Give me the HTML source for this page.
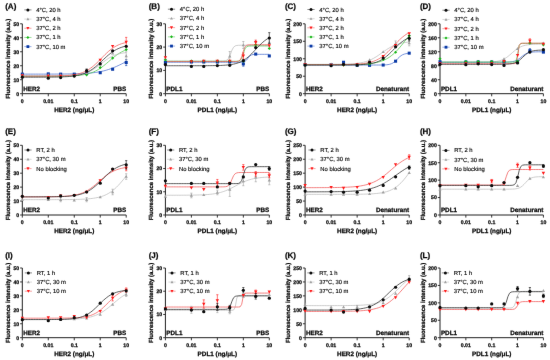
<!DOCTYPE html>
<html><head><meta charset="utf-8"><style>html,body{margin:0;padding:0;background:#fff;width:550px;height:360px;overflow:hidden}text{font-family:"Liberation Sans", sans-serif;text-rendering:geometricPrecision}</style></head>
<body><div style="will-change:transform;width:550px;height:360px"><svg width="550" height="360" viewBox="0 0 550 360" style="display:block;font-family:'Liberation Sans', sans-serif"><defs><filter id="bl" x="0" y="0" width="550" height="360" filterUnits="userSpaceOnUse" color-interpolation-filters="sRGB"><feConvolveMatrix order="3" kernelMatrix="0.00163 0.03713 0.00163 0.03713 0.84497 0.03713 0.00163 0.03713 0.00163" edgeMode="duplicate"/></filter></defs><rect width="550" height="360" fill="#ffffff"/><g filter="url(#bl)"><text x="5.20" y="9.40" font-size="8" font-weight="bold" text-anchor="start" fill="#0a0a0a" stroke="#0a0a0a" stroke-width="0.25" >(A)</text><text x="8.10" y="58.75" font-size="5.95" font-weight="bold" text-anchor="middle" fill="#0a0a0a" stroke="#0a0a0a" stroke-width="0.25" transform="rotate(-90 8.10 58.75)" dy="2">Fluorescence intensity (a.u.)</text><path d="M22.30 23.80V93.70H126.20" stroke="#222222" stroke-width="1.0" fill="none"/><path d="M20.10 93.70H22.30" stroke="#222222" stroke-width="0.9"/><text x="19.10" y="95.55" font-size="5.15" font-weight="bold" text-anchor="end" fill="#0a0a0a" stroke="#0a0a0a" stroke-width="0.25" >0</text><path d="M20.10 79.72H22.30" stroke="#222222" stroke-width="0.9"/><text x="19.10" y="81.57" font-size="5.15" font-weight="bold" text-anchor="end" fill="#0a0a0a" stroke="#0a0a0a" stroke-width="0.25" >10</text><path d="M20.10 65.74H22.30" stroke="#222222" stroke-width="0.9"/><text x="19.10" y="67.59" font-size="5.15" font-weight="bold" text-anchor="end" fill="#0a0a0a" stroke="#0a0a0a" stroke-width="0.25" >20</text><path d="M20.10 51.76H22.30" stroke="#222222" stroke-width="0.9"/><text x="19.10" y="53.61" font-size="5.15" font-weight="bold" text-anchor="end" fill="#0a0a0a" stroke="#0a0a0a" stroke-width="0.25" >30</text><path d="M20.10 37.78H22.30" stroke="#222222" stroke-width="0.9"/><text x="19.10" y="39.63" font-size="5.15" font-weight="bold" text-anchor="end" fill="#0a0a0a" stroke="#0a0a0a" stroke-width="0.25" >40</text><path d="M20.10 23.80H22.30" stroke="#222222" stroke-width="0.9"/><text x="19.10" y="25.65" font-size="5.15" font-weight="bold" text-anchor="end" fill="#0a0a0a" stroke="#0a0a0a" stroke-width="0.25" >50</text><path d="M22.30 93.70V96.30" stroke="#222222" stroke-width="0.9"/><text x="22.30" y="102.70" font-size="5.15" font-weight="bold" text-anchor="middle" fill="#0a0a0a" stroke="#0a0a0a" stroke-width="0.25" >0</text><path d="M48.28 93.70V96.30" stroke="#222222" stroke-width="0.9"/><text x="48.28" y="102.70" font-size="5.15" font-weight="bold" text-anchor="middle" fill="#0a0a0a" stroke="#0a0a0a" stroke-width="0.25" >0.01</text><path d="M74.25 93.70V96.30" stroke="#222222" stroke-width="0.9"/><text x="74.25" y="102.70" font-size="5.15" font-weight="bold" text-anchor="middle" fill="#0a0a0a" stroke="#0a0a0a" stroke-width="0.25" >0.1</text><path d="M100.23 93.70V96.30" stroke="#222222" stroke-width="0.9"/><text x="100.23" y="102.70" font-size="5.15" font-weight="bold" text-anchor="middle" fill="#0a0a0a" stroke="#0a0a0a" stroke-width="0.25" >1</text><path d="M126.20 93.70V96.30" stroke="#222222" stroke-width="0.9"/><text x="126.20" y="102.70" font-size="5.15" font-weight="bold" text-anchor="middle" fill="#0a0a0a" stroke="#0a0a0a" stroke-width="0.25" >10</text><text x="74.25" y="111.50" font-size="6.35" font-weight="bold" text-anchor="middle" fill="#0a0a0a" stroke="#0a0a0a" stroke-width="0.25" >HER2 (ng/μL)</text><text x="23.20" y="90.80" font-size="6.3" font-weight="bold" text-anchor="start" fill="#0a0a0a" stroke="#0a0a0a" stroke-width="0.25" >HER2</text><text x="126.20" y="90.80" font-size="6.3" font-weight="bold" text-anchor="end" fill="#0a0a0a" stroke="#0a0a0a" stroke-width="0.25" >PBS</text><polyline points="22.30,74.13 23.92,74.12 25.55,74.12 27.17,74.12 28.79,74.12 30.42,74.12 32.04,74.12 33.66,74.12 35.29,74.12 36.91,74.12 38.53,74.12 40.16,74.11 41.78,74.11 43.40,74.11 45.03,74.11 46.65,74.10 48.28,74.10 49.90,74.10 51.52,74.09 53.15,74.09 54.77,74.08 56.39,74.07 58.02,74.06 59.64,74.05 61.26,74.04 62.89,74.03 64.51,74.01 66.13,73.99 67.76,73.97 69.38,73.95 71.00,73.92 72.63,73.89 74.25,73.85 75.87,73.81 77.50,73.76 79.12,73.71 80.74,73.64 82.37,73.57 83.99,73.48 85.61,73.39 87.24,73.28 88.86,73.15 90.48,73.01 92.11,72.84 93.73,72.66 95.35,72.45 96.98,72.21 98.60,71.94 100.23,71.64 101.85,71.31 103.47,70.93 105.10,70.52 106.72,70.06 108.34,69.56 109.97,69.01 111.59,68.42 113.21,67.79 114.84,67.12 116.46,66.41 118.08,65.66 119.71,64.90 121.33,64.11 122.95,63.31 124.58,62.50 126.20,61.70" fill="none" stroke="#4a6fd0" stroke-width="0.75"/><polyline points="22.30,76.22 23.92,76.22 25.55,76.22 27.17,76.22 28.79,76.22 30.42,76.22 32.04,76.22 33.66,76.22 35.29,76.22 36.91,76.22 38.53,76.22 40.16,76.21 41.78,76.21 43.40,76.21 45.03,76.21 46.65,76.20 48.28,76.20 49.90,76.19 51.52,76.19 53.15,76.18 54.77,76.17 56.39,76.16 58.02,76.14 59.64,76.12 61.26,76.10 62.89,76.08 64.51,76.05 66.13,76.01 67.76,75.97 69.38,75.92 71.00,75.86 72.63,75.78 74.25,75.69 75.87,75.59 77.50,75.46 79.12,75.31 80.74,75.12 82.37,74.91 83.99,74.65 85.61,74.35 87.24,73.99 88.86,73.57 90.48,73.08 92.11,72.52 93.73,71.86 95.35,71.12 96.98,70.28 98.60,69.33 100.23,68.29 101.85,67.15 103.47,65.92 105.10,64.62 106.72,63.26 108.34,61.87 109.97,60.46 111.59,59.07 113.21,57.72 114.84,56.42 116.46,55.19 118.08,54.06 119.71,53.02 121.33,52.08 122.95,51.24 124.58,50.50 126.20,49.85" fill="none" stroke="#4fc84f" stroke-width="0.75"/><polyline points="22.30,75.53 23.92,75.53 25.55,75.52 27.17,75.52 28.79,75.52 30.42,75.52 32.04,75.52 33.66,75.52 35.29,75.52 36.91,75.52 38.53,75.52 40.16,75.52 41.78,75.52 43.40,75.52 45.03,75.51 46.65,75.51 48.28,75.51 49.90,75.50 51.52,75.49 53.15,75.49 54.77,75.48 56.39,75.47 58.02,75.45 59.64,75.43 61.26,75.41 62.89,75.38 64.51,75.35 66.13,75.31 67.76,75.25 69.38,75.19 71.00,75.11 72.63,75.01 74.25,74.89 75.87,74.74 77.50,74.56 79.12,74.34 80.74,74.08 82.37,73.75 83.99,73.36 85.61,72.90 87.24,72.35 88.86,71.71 90.48,70.97 92.11,70.12 93.73,69.16 95.35,68.11 96.98,66.97 98.60,65.75 100.23,64.49 101.85,63.21 103.47,61.94 105.10,60.71 106.72,59.54 108.34,58.45 109.97,57.47 111.59,56.58 113.21,55.81 114.84,55.13 116.46,54.55 118.08,54.06 119.71,53.65 121.33,53.31 122.95,53.02 124.58,52.79 126.20,52.60" fill="none" stroke="#bdbdbd" stroke-width="0.75"/><polyline points="22.30,76.22 23.92,76.22 25.55,76.22 27.17,76.22 28.79,76.22 30.42,76.21 32.04,76.21 33.66,76.21 35.29,76.21 36.91,76.20 38.53,76.20 40.16,76.19 41.78,76.19 43.40,76.18 45.03,76.17 46.65,76.16 48.28,76.15 49.90,76.13 51.52,76.11 53.15,76.09 54.77,76.06 56.39,76.02 58.02,75.98 59.64,75.93 61.26,75.88 62.89,75.80 64.51,75.72 66.13,75.62 67.76,75.49 69.38,75.35 71.00,75.17 72.63,74.96 74.25,74.71 75.87,74.42 77.50,74.07 79.12,73.66 80.74,73.17 82.37,72.61 83.99,71.96 85.61,71.20 87.24,70.34 88.86,69.36 90.48,68.26 92.11,67.05 93.73,65.72 95.35,64.28 96.98,62.75 98.60,61.15 100.23,59.50 101.85,57.84 103.47,56.18 105.10,54.56 106.72,53.01 108.34,51.54 109.97,50.17 111.59,48.92 113.21,47.78 114.84,46.77 116.46,45.87 118.08,45.08 119.71,44.39 121.33,43.80 122.95,43.29 124.58,42.86 126.20,42.49" fill="none" stroke="#f05a5a" stroke-width="0.75"/><polyline points="22.30,77.20 23.92,77.20 25.55,77.20 27.17,77.20 28.79,77.20 30.42,77.20 32.04,77.19 33.66,77.19 35.29,77.19 36.91,77.19 38.53,77.18 40.16,77.18 41.78,77.17 43.40,77.17 45.03,77.16 46.65,77.15 48.28,77.14 49.90,77.12 51.52,77.11 53.15,77.09 54.77,77.07 56.39,77.04 58.02,77.00 59.64,76.96 61.26,76.91 62.89,76.85 64.51,76.78 66.13,76.70 67.76,76.60 69.38,76.47 71.00,76.33 72.63,76.15 74.25,75.94 75.87,75.70 77.50,75.40 79.12,75.06 80.74,74.65 82.37,74.17 83.99,73.61 85.61,72.97 87.24,72.23 88.86,71.39 90.48,70.43 92.11,69.37 93.73,68.20 95.35,66.92 96.98,65.55 98.60,64.10 100.23,62.59 101.85,61.05 103.47,59.50 105.10,57.97 106.72,56.49 108.34,55.08 109.97,53.75 111.59,52.52 113.21,51.39 114.84,50.38 116.46,49.48 118.08,48.69 119.71,47.99 121.33,47.39 122.95,46.87 124.58,46.43 126.20,46.05" fill="none" stroke="#2a2a2a" stroke-width="0.75"/><rect x="20.78" y="72.61" width="3.04" height="3.04" fill="#0b3aa6"/><rect x="46.76" y="72.33" width="3.04" height="3.04" fill="#0b3aa6"/><rect x="59.15" y="72.61" width="3.04" height="3.04" fill="#0b3aa6"/><rect x="72.73" y="72.61" width="3.04" height="3.04" fill="#0b3aa6"/><rect x="85.12" y="71.91" width="3.04" height="3.04" fill="#0b3aa6"/><rect x="98.71" y="71.21" width="3.04" height="3.04" fill="#0b3aa6"/><rect x="111.10" y="67.72" width="3.04" height="3.04" fill="#0b3aa6"/><path d="M126.20 59.45V65.60M125.10 59.45h2.2M125.10 65.60h2.2" stroke="#0b3aa6" stroke-width="0.6"/><rect x="124.68" y="61.00" width="3.04" height="3.04" fill="#0b3aa6"/><path d="M22.30 74.61L23.91 76.22L22.30 77.84L20.69 76.22Z" fill="#1cb81c"/><path d="M48.28 74.61L49.89 76.22L48.28 77.84L46.66 76.22Z" fill="#1cb81c"/><path d="M60.67 74.61L62.28 76.22L60.67 77.84L59.05 76.22Z" fill="#1cb81c"/><path d="M74.25 74.19L75.86 75.81L74.25 77.42L72.64 75.81Z" fill="#1cb81c"/><path d="M86.64 73.21L88.26 74.83L86.64 76.44L85.03 74.83Z" fill="#1cb81c"/><path d="M100.23 65.94L101.84 67.56L100.23 69.17L98.61 67.56Z" fill="#1cb81c"/><path d="M112.62 56.44L114.23 58.05L112.62 59.67L111.00 58.05Z" fill="#1cb81c"/><path d="M126.20 47.91L127.81 49.52L126.20 51.14L124.59 49.52Z" fill="#1cb81c"/><path d="M22.30 73.21L23.91 76.12L20.69 76.12Z" fill="#a0a0a0"/><path d="M48.28 73.21L49.89 76.12L46.66 76.12Z" fill="#a0a0a0"/><path d="M60.67 73.21L62.28 76.12L59.05 76.12Z" fill="#a0a0a0"/><path d="M74.25 73.21L75.86 76.12L72.64 76.12Z" fill="#a0a0a0"/><path d="M86.64 71.12L88.26 74.02L85.03 74.02Z" fill="#a0a0a0"/><path d="M100.23 62.73L101.84 65.63L98.61 65.63Z" fill="#a0a0a0"/><path d="M112.62 51.54L114.23 54.45L111.00 54.45Z" fill="#a0a0a0"/><path d="M126.20 51.76V60.15M125.10 51.76h2.2M125.10 60.15h2.2" stroke="#a0a0a0" stroke-width="0.6"/><path d="M126.20 54.34L127.81 57.25L124.59 57.25Z" fill="#a0a0a0"/><path d="M22.30 77.24L24.01 74.16L20.59 74.16Z" fill="#ff1c1c"/><path d="M48.28 77.93L49.99 74.86L46.57 74.86Z" fill="#ff1c1c"/><path d="M60.67 77.93L62.38 74.86L58.96 74.86Z" fill="#ff1c1c"/><path d="M74.25 77.24L75.96 74.16L72.54 74.16Z" fill="#ff1c1c"/><path d="M86.64 73.32L88.35 70.24L84.93 70.24Z" fill="#ff1c1c"/><path d="M100.23 61.86L101.94 58.78L98.52 58.78Z" fill="#ff1c1c"/><path d="M112.62 48.02L114.33 44.94L110.91 44.94Z" fill="#ff1c1c"/><path d="M126.20 37.36V46.87M125.10 37.36h2.2M125.10 46.87h2.2" stroke="#ff1c1c" stroke-width="0.6"/><path d="M126.20 43.82L127.91 40.75L124.49 40.75Z" fill="#ff1c1c"/><circle cx="22.30" cy="77.20" r="1.61" fill="#0d0d0d"/><circle cx="48.28" cy="78.18" r="1.61" fill="#0d0d0d"/><circle cx="60.67" cy="77.62" r="1.61" fill="#0d0d0d"/><circle cx="74.25" cy="76.09" r="1.61" fill="#0d0d0d"/><path d="M86.64 68.96V72.31M85.54 68.96h2.2M85.54 72.31h2.2" stroke="#0d0d0d" stroke-width="0.6"/><circle cx="86.64" cy="70.63" r="1.61" fill="#0d0d0d"/><circle cx="100.23" cy="63.64" r="1.61" fill="#0d0d0d"/><circle cx="112.62" cy="50.78" r="1.61" fill="#0d0d0d"/><circle cx="126.20" cy="46.31" r="1.61" fill="#0d0d0d"/><path d="M24.30 9.90H31.50" stroke="#2a2a2a" stroke-width="0.55"/><circle cx="27.90" cy="9.90" r="1.50" fill="#0d0d0d"/><text x="36.20" y="11.90" font-size="5.85" font-weight="normal" text-anchor="start" fill="#0a0a0a" stroke="#0a0a0a" stroke-width="0.15" >4°C, 20 h</text><path d="M24.30 19.08H31.50" stroke="#bdbdbd" stroke-width="0.55"/><path d="M27.90 17.58L29.40 20.28L26.40 20.28Z" fill="#a0a0a0"/><text x="36.20" y="21.08" font-size="5.85" font-weight="normal" text-anchor="start" fill="#0a0a0a" stroke="#0a0a0a" stroke-width="0.15" >37°C, 4 h</text><path d="M24.30 28.26H31.50" stroke="#f05a5a" stroke-width="0.55"/><path d="M27.90 29.84L29.48 26.99L26.32 26.99Z" fill="#ff1c1c"/><text x="36.20" y="30.26" font-size="5.85" font-weight="normal" text-anchor="start" fill="#0a0a0a" stroke="#0a0a0a" stroke-width="0.15" >37°C, 2 h</text><path d="M24.30 37.44H31.50" stroke="#4fc84f" stroke-width="0.55"/><path d="M27.90 35.94L29.40 37.44L27.90 38.94L26.40 37.44Z" fill="#1cb81c"/><text x="36.20" y="39.44" font-size="5.85" font-weight="normal" text-anchor="start" fill="#0a0a0a" stroke="#0a0a0a" stroke-width="0.15" >37°C, 1 h</text><path d="M24.30 46.62H31.50" stroke="#4a6fd0" stroke-width="0.55"/><rect x="26.49" y="45.21" width="2.82" height="2.82" fill="#0b3aa6"/><text x="36.20" y="48.62" font-size="5.85" font-weight="normal" text-anchor="start" fill="#0a0a0a" stroke="#0a0a0a" stroke-width="0.15" >37°C, 10 m</text><text x="148.70" y="9.40" font-size="8" font-weight="bold" text-anchor="start" fill="#0a0a0a" stroke="#0a0a0a" stroke-width="0.25" >(B)</text><text x="151.20" y="58.75" font-size="5.95" font-weight="bold" text-anchor="middle" fill="#0a0a0a" stroke="#0a0a0a" stroke-width="0.25" transform="rotate(-90 151.20 58.75)" dy="2">Fluorescence intensity (a.u.)</text><path d="M165.40 23.80V93.70H269.30" stroke="#222222" stroke-width="1.0" fill="none"/><path d="M163.20 93.70H165.40" stroke="#222222" stroke-width="0.9"/><text x="162.20" y="95.55" font-size="5.15" font-weight="bold" text-anchor="end" fill="#0a0a0a" stroke="#0a0a0a" stroke-width="0.25" >0</text><path d="M163.20 70.40H165.40" stroke="#222222" stroke-width="0.9"/><text x="162.20" y="72.25" font-size="5.15" font-weight="bold" text-anchor="end" fill="#0a0a0a" stroke="#0a0a0a" stroke-width="0.25" >10</text><path d="M163.20 47.10H165.40" stroke="#222222" stroke-width="0.9"/><text x="162.20" y="48.95" font-size="5.15" font-weight="bold" text-anchor="end" fill="#0a0a0a" stroke="#0a0a0a" stroke-width="0.25" >20</text><path d="M163.20 23.80H165.40" stroke="#222222" stroke-width="0.9"/><text x="162.20" y="25.65" font-size="5.15" font-weight="bold" text-anchor="end" fill="#0a0a0a" stroke="#0a0a0a" stroke-width="0.25" >30</text><path d="M165.40 93.70V96.30" stroke="#222222" stroke-width="0.9"/><text x="165.40" y="102.70" font-size="5.15" font-weight="bold" text-anchor="middle" fill="#0a0a0a" stroke="#0a0a0a" stroke-width="0.25" >0</text><path d="M191.38 93.70V96.30" stroke="#222222" stroke-width="0.9"/><text x="191.38" y="102.70" font-size="5.15" font-weight="bold" text-anchor="middle" fill="#0a0a0a" stroke="#0a0a0a" stroke-width="0.25" >0.01</text><path d="M217.35 93.70V96.30" stroke="#222222" stroke-width="0.9"/><text x="217.35" y="102.70" font-size="5.15" font-weight="bold" text-anchor="middle" fill="#0a0a0a" stroke="#0a0a0a" stroke-width="0.25" >0.1</text><path d="M243.33 93.70V96.30" stroke="#222222" stroke-width="0.9"/><text x="243.33" y="102.70" font-size="5.15" font-weight="bold" text-anchor="middle" fill="#0a0a0a" stroke="#0a0a0a" stroke-width="0.25" >1</text><path d="M269.30 93.70V96.30" stroke="#222222" stroke-width="0.9"/><text x="269.30" y="102.70" font-size="5.15" font-weight="bold" text-anchor="middle" fill="#0a0a0a" stroke="#0a0a0a" stroke-width="0.25" >10</text><text x="217.35" y="111.50" font-size="6.35" font-weight="bold" text-anchor="middle" fill="#0a0a0a" stroke="#0a0a0a" stroke-width="0.25" >PDL1 (ng/μL)</text><text x="166.30" y="90.80" font-size="6.3" font-weight="bold" text-anchor="start" fill="#0a0a0a" stroke="#0a0a0a" stroke-width="0.25" >PDL1</text><text x="269.30" y="90.80" font-size="6.3" font-weight="bold" text-anchor="end" fill="#0a0a0a" stroke="#0a0a0a" stroke-width="0.25" >PBS</text><polyline points="165.40,61.08 167.02,61.08 168.65,61.08 170.27,61.08 171.89,61.08 173.52,61.08 175.14,61.08 176.76,61.08 178.39,61.08 180.01,61.08 181.63,61.08 183.26,61.08 184.88,61.08 186.50,61.08 188.13,61.08 189.75,61.08 191.38,61.08 193.00,61.08 194.62,61.08 196.25,61.08 197.87,61.08 199.49,61.08 201.12,61.08 202.74,61.08 204.36,61.08 205.99,61.08 207.61,61.08 209.23,61.08 210.86,61.08 212.48,61.08 214.10,61.08 215.73,61.08 217.35,61.08 218.97,61.08 220.60,61.07 222.22,61.04 223.84,60.97 225.47,60.73 227.09,60.03 228.71,58.17 230.34,54.50 231.96,50.11 233.58,47.19 235.21,45.91 236.83,45.46 238.45,45.31 240.08,45.26 241.70,45.24 243.33,45.24 244.95,45.24 246.57,45.24 248.20,45.24 249.82,45.24 251.44,45.24 253.07,45.24 254.69,45.24 256.31,45.24 257.94,45.24 259.56,45.24 261.18,45.24 262.81,45.24 264.43,45.24 266.05,45.24 267.68,45.24 269.30,45.24" fill="none" stroke="#bdbdbd" stroke-width="0.75"/><polyline points="165.40,62.25 167.02,62.25 168.65,62.25 170.27,62.25 171.89,62.25 173.52,62.25 175.14,62.25 176.76,62.25 178.39,62.25 180.01,62.25 181.63,62.25 183.26,62.25 184.88,62.25 186.50,62.25 188.13,62.25 189.75,62.25 191.38,62.25 193.00,62.25 194.62,62.25 196.25,62.25 197.87,62.24 199.49,62.24 201.12,62.24 202.74,62.24 204.36,62.24 205.99,62.24 207.61,62.24 209.23,62.24 210.86,62.24 212.48,62.24 214.10,62.24 215.73,62.24 217.35,62.24 218.97,62.24 220.60,62.24 222.22,62.24 223.84,62.24 225.47,62.24 227.09,62.24 228.71,62.24 230.34,62.24 231.96,62.24 233.58,62.24 235.21,62.24 236.83,62.24 238.45,62.24 240.08,62.21 241.70,62.15 243.33,61.95 244.95,61.37 246.57,60.02 248.20,57.87 249.82,55.94 251.44,54.92 253.07,54.52 254.69,54.39 256.31,54.34 257.94,54.33 259.56,54.33 261.18,54.32 262.81,54.32 264.43,54.32 266.05,54.32 267.68,54.32 269.30,54.32" fill="none" stroke="#4a6fd0" stroke-width="0.75"/><polyline points="165.40,61.31 167.02,61.31 168.65,61.31 170.27,61.31 171.89,61.31 173.52,61.31 175.14,61.31 176.76,61.31 178.39,61.31 180.01,61.31 181.63,61.31 183.26,61.31 184.88,61.31 186.50,61.31 188.13,61.31 189.75,61.31 191.38,61.31 193.00,61.31 194.62,61.31 196.25,61.31 197.87,61.31 199.49,61.31 201.12,61.31 202.74,61.31 204.36,61.31 205.99,61.31 207.61,61.31 209.23,61.31 210.86,61.31 212.48,61.31 214.10,61.31 215.73,61.31 217.35,61.31 218.97,61.31 220.60,61.31 222.22,61.31 223.84,61.31 225.47,61.31 227.09,61.31 228.71,61.31 230.34,61.31 231.96,61.31 233.58,61.31 235.21,61.30 236.83,61.26 238.45,61.11 240.08,60.49 241.70,58.37 243.33,53.62 244.95,48.88 246.57,46.75 248.20,46.14 249.82,45.98 251.44,45.95 253.07,45.94 254.69,45.94 256.31,45.94 257.94,45.94 259.56,45.94 261.18,45.94 262.81,45.94 264.43,45.94 266.05,45.94 267.68,45.94 269.30,45.94" fill="none" stroke="#4fc84f" stroke-width="0.75"/><polyline points="165.40,61.55 167.02,61.55 168.65,61.55 170.27,61.55 171.89,61.55 173.52,61.55 175.14,61.55 176.76,61.55 178.39,61.55 180.01,61.55 181.63,61.55 183.26,61.55 184.88,61.55 186.50,61.55 188.13,61.55 189.75,61.55 191.38,61.55 193.00,61.55 194.62,61.55 196.25,61.55 197.87,61.55 199.49,61.55 201.12,61.55 202.74,61.55 204.36,61.55 205.99,61.55 207.61,61.55 209.23,61.55 210.86,61.55 212.48,61.55 214.10,61.55 215.73,61.55 217.35,61.55 218.97,61.55 220.60,61.55 222.22,61.55 223.84,61.55 225.47,61.55 227.09,61.55 228.71,61.55 230.34,61.55 231.96,61.54 233.58,61.54 235.21,61.53 236.83,61.46 238.45,61.18 240.08,60.11 241.70,56.79 243.33,51.05 244.95,46.86 246.57,45.32 248.20,44.90 249.82,44.80 251.44,44.78 253.07,44.77 254.69,44.77 256.31,44.77 257.94,44.77 259.56,44.77 261.18,44.77 262.81,44.77 264.43,44.77 266.05,44.77 267.68,44.77 269.30,44.77" fill="none" stroke="#f05a5a" stroke-width="0.75"/><polyline points="165.40,65.74 167.02,65.74 168.65,65.74 170.27,65.74 171.89,65.74 173.52,65.74 175.14,65.74 176.76,65.74 178.39,65.74 180.01,65.74 181.63,65.74 183.26,65.74 184.88,65.74 186.50,65.74 188.13,65.74 189.75,65.73 191.38,65.73 193.00,65.73 194.62,65.73 196.25,65.73 197.87,65.73 199.49,65.72 201.12,65.72 202.74,65.71 204.36,65.70 205.99,65.70 207.61,65.69 209.23,65.67 210.86,65.66 212.48,65.64 214.10,65.61 215.73,65.58 217.35,65.54 218.97,65.50 220.60,65.44 222.22,65.37 223.84,65.28 225.47,65.17 227.09,65.03 228.71,64.86 230.34,64.66 231.96,64.41 233.58,64.11 235.21,63.74 236.83,63.29 238.45,62.76 240.08,62.12 241.70,61.36 243.33,60.48 244.95,59.45 246.57,58.28 248.20,56.97 249.82,55.52 251.44,53.95 253.07,52.28 254.69,50.54 256.31,48.79 257.94,47.04 259.56,45.35 261.18,43.75 262.81,42.27 264.43,40.92 266.05,39.71 267.68,38.64 269.30,37.72" fill="none" stroke="#2a2a2a" stroke-width="0.75"/><path d="M165.40 57.13L167.02 60.04L163.78 60.04Z" fill="#a0a0a0"/><path d="M191.38 59.46L192.99 62.37L189.76 62.37Z" fill="#a0a0a0"/><path d="M203.77 59.46L205.38 62.37L202.15 62.37Z" fill="#a0a0a0"/><path d="M217.35 59.23L218.97 62.14L215.74 62.14Z" fill="#a0a0a0"/><path d="M229.74 51.53V60.85M228.64 51.53h2.2M228.64 60.85h2.2" stroke="#a0a0a0" stroke-width="0.6"/><path d="M229.74 54.57L231.36 57.48L228.13 57.48Z" fill="#a0a0a0"/><path d="M243.33 41.51V48.50M242.23 41.51h2.2M242.23 48.50h2.2" stroke="#a0a0a0" stroke-width="0.6"/><path d="M243.33 43.39L244.94 46.30L241.71 46.30Z" fill="#a0a0a0"/><path d="M255.72 39.66L257.33 42.57L254.10 42.57Z" fill="#a0a0a0"/><path d="M269.30 37.78V47.10M268.20 37.78h2.2M268.20 47.10h2.2" stroke="#a0a0a0" stroke-width="0.6"/><path d="M269.30 40.82L270.92 43.73L267.69 43.73Z" fill="#a0a0a0"/><rect x="163.88" y="60.96" width="3.04" height="3.04" fill="#0b3aa6"/><rect x="189.85" y="60.49" width="3.04" height="3.04" fill="#0b3aa6"/><rect x="202.25" y="60.49" width="3.04" height="3.04" fill="#0b3aa6"/><rect x="215.83" y="60.49" width="3.04" height="3.04" fill="#0b3aa6"/><rect x="228.22" y="60.49" width="3.04" height="3.04" fill="#0b3aa6"/><path d="M243.33 61.55V66.21M242.23 61.55h2.2M242.23 66.21h2.2" stroke="#0b3aa6" stroke-width="0.6"/><rect x="241.81" y="62.36" width="3.04" height="3.04" fill="#0b3aa6"/><rect x="254.20" y="52.57" width="3.04" height="3.04" fill="#0b3aa6"/><rect x="267.78" y="54.43" width="3.04" height="3.04" fill="#0b3aa6"/><path d="M165.40 58.30L167.02 59.91L165.40 61.53L163.78 59.91Z" fill="#1cb81c"/><path d="M191.38 59.46L192.99 61.08L191.38 62.70L189.76 61.08Z" fill="#1cb81c"/><path d="M203.77 59.46L205.38 61.08L203.77 62.70L202.15 61.08Z" fill="#1cb81c"/><path d="M217.35 59.46L218.97 61.08L217.35 62.70L215.74 61.08Z" fill="#1cb81c"/><path d="M229.74 59.46L231.36 61.08L229.74 62.70L228.13 61.08Z" fill="#1cb81c"/><path d="M243.33 59.46L244.94 61.08L243.33 62.70L241.71 61.08Z" fill="#1cb81c"/><path d="M255.72 43.16L257.33 44.77L255.72 46.39L254.10 44.77Z" fill="#1cb81c"/><path d="M269.30 46.88L270.92 48.50L269.30 50.11L267.69 48.50Z" fill="#1cb81c"/><path d="M165.40 59.30L167.11 56.22L163.69 56.22Z" fill="#ff1c1c"/><path d="M191.38 63.26L193.09 60.18L189.66 60.18Z" fill="#ff1c1c"/><path d="M203.77 62.79L205.48 59.71L202.06 59.71Z" fill="#ff1c1c"/><path d="M217.35 62.79L219.06 59.71L215.64 59.71Z" fill="#ff1c1c"/><path d="M229.74 62.79L231.45 59.71L228.03 59.71Z" fill="#ff1c1c"/><path d="M243.33 52.92V58.98M242.23 52.92h2.2M242.23 58.98h2.2" stroke="#ff1c1c" stroke-width="0.6"/><path d="M243.33 57.66L245.04 54.59L241.62 54.59Z" fill="#ff1c1c"/><path d="M255.72 40.11V44.77M254.62 40.11h2.2M254.62 44.77h2.2" stroke="#ff1c1c" stroke-width="0.6"/><path d="M255.72 44.15L257.43 41.07L254.01 41.07Z" fill="#ff1c1c"/><path d="M269.30 47.41L271.01 44.33L267.59 44.33Z" fill="#ff1c1c"/><circle cx="165.40" cy="64.58" r="1.61" fill="#0d0d0d"/><circle cx="191.38" cy="66.44" r="1.61" fill="#0d0d0d"/><circle cx="203.77" cy="66.44" r="1.61" fill="#0d0d0d"/><circle cx="217.35" cy="65.62" r="1.61" fill="#0d0d0d"/><circle cx="229.74" cy="65.27" r="1.61" fill="#0d0d0d"/><circle cx="243.33" cy="60.61" r="1.61" fill="#0d0d0d"/><circle cx="255.72" cy="47.57" r="1.61" fill="#0d0d0d"/><path d="M269.30 32.65V43.37M268.20 32.65h2.2M268.20 43.37h2.2" stroke="#0d0d0d" stroke-width="0.6"/><circle cx="269.30" cy="38.01" r="1.61" fill="#0d0d0d"/><path d="M167.90 9.20H175.10" stroke="#2a2a2a" stroke-width="0.55"/><circle cx="171.50" cy="9.20" r="1.50" fill="#0d0d0d"/><text x="179.80" y="11.20" font-size="5.85" font-weight="normal" text-anchor="start" fill="#0a0a0a" stroke="#0a0a0a" stroke-width="0.15" >4°C, 20 h</text><path d="M167.90 18.42H175.10" stroke="#bdbdbd" stroke-width="0.55"/><path d="M171.50 16.92L173.00 19.62L170.00 19.62Z" fill="#a0a0a0"/><text x="179.80" y="20.42" font-size="5.85" font-weight="normal" text-anchor="start" fill="#0a0a0a" stroke="#0a0a0a" stroke-width="0.15" >37°C, 4 h</text><path d="M167.90 27.64H175.10" stroke="#f05a5a" stroke-width="0.55"/><path d="M171.50 29.22L173.08 26.37L169.92 26.37Z" fill="#ff1c1c"/><text x="179.80" y="29.64" font-size="5.85" font-weight="normal" text-anchor="start" fill="#0a0a0a" stroke="#0a0a0a" stroke-width="0.15" >37°C, 2 h</text><path d="M167.90 36.86H175.10" stroke="#4fc84f" stroke-width="0.55"/><path d="M171.50 35.36L173.00 36.86L171.50 38.36L170.00 36.86Z" fill="#1cb81c"/><text x="179.80" y="38.86" font-size="5.85" font-weight="normal" text-anchor="start" fill="#0a0a0a" stroke="#0a0a0a" stroke-width="0.15" >37°C, 1 h</text><path d="M167.90 46.08H175.10" stroke="#4a6fd0" stroke-width="0.55"/><rect x="170.09" y="44.67" width="2.82" height="2.82" fill="#0b3aa6"/><text x="179.80" y="48.08" font-size="5.85" font-weight="normal" text-anchor="start" fill="#0a0a0a" stroke="#0a0a0a" stroke-width="0.15" >37°C, 10 m</text><text x="284.90" y="9.40" font-size="8" font-weight="bold" text-anchor="start" fill="#0a0a0a" stroke="#0a0a0a" stroke-width="0.25" >(C)</text><text x="288.10" y="58.75" font-size="5.95" font-weight="bold" text-anchor="middle" fill="#0a0a0a" stroke="#0a0a0a" stroke-width="0.25" transform="rotate(-90 288.10 58.75)" dy="2">Fluorescence intensity (a.u.)</text><path d="M305.10 23.80V93.70H409.20" stroke="#222222" stroke-width="1.0" fill="none"/><path d="M302.90 93.70H305.10" stroke="#222222" stroke-width="0.9"/><text x="301.90" y="95.55" font-size="5.15" font-weight="bold" text-anchor="end" fill="#0a0a0a" stroke="#0a0a0a" stroke-width="0.25" >0</text><path d="M302.90 76.22H305.10" stroke="#222222" stroke-width="0.9"/><text x="301.90" y="78.07" font-size="5.15" font-weight="bold" text-anchor="end" fill="#0a0a0a" stroke="#0a0a0a" stroke-width="0.25" >50</text><path d="M302.90 58.75H305.10" stroke="#222222" stroke-width="0.9"/><text x="301.90" y="60.60" font-size="5.15" font-weight="bold" text-anchor="end" fill="#0a0a0a" stroke="#0a0a0a" stroke-width="0.25" >100</text><path d="M302.90 41.28H305.10" stroke="#222222" stroke-width="0.9"/><text x="301.90" y="43.13" font-size="5.15" font-weight="bold" text-anchor="end" fill="#0a0a0a" stroke="#0a0a0a" stroke-width="0.25" >150</text><path d="M302.90 23.80H305.10" stroke="#222222" stroke-width="0.9"/><text x="301.90" y="25.65" font-size="5.15" font-weight="bold" text-anchor="end" fill="#0a0a0a" stroke="#0a0a0a" stroke-width="0.25" >200</text><path d="M305.10 93.70V96.30" stroke="#222222" stroke-width="0.9"/><text x="305.10" y="102.70" font-size="5.15" font-weight="bold" text-anchor="middle" fill="#0a0a0a" stroke="#0a0a0a" stroke-width="0.25" >0</text><path d="M331.12 93.70V96.30" stroke="#222222" stroke-width="0.9"/><text x="331.12" y="102.70" font-size="5.15" font-weight="bold" text-anchor="middle" fill="#0a0a0a" stroke="#0a0a0a" stroke-width="0.25" >0.01</text><path d="M357.15 93.70V96.30" stroke="#222222" stroke-width="0.9"/><text x="357.15" y="102.70" font-size="5.15" font-weight="bold" text-anchor="middle" fill="#0a0a0a" stroke="#0a0a0a" stroke-width="0.25" >0.1</text><path d="M383.18 93.70V96.30" stroke="#222222" stroke-width="0.9"/><text x="383.18" y="102.70" font-size="5.15" font-weight="bold" text-anchor="middle" fill="#0a0a0a" stroke="#0a0a0a" stroke-width="0.25" >1</text><path d="M409.20 93.70V96.30" stroke="#222222" stroke-width="0.9"/><text x="409.20" y="102.70" font-size="5.15" font-weight="bold" text-anchor="middle" fill="#0a0a0a" stroke="#0a0a0a" stroke-width="0.25" >10</text><text x="357.15" y="111.50" font-size="6.35" font-weight="bold" text-anchor="middle" fill="#0a0a0a" stroke="#0a0a0a" stroke-width="0.25" >HER2 (ng/μL)</text><text x="306.00" y="90.80" font-size="6.3" font-weight="bold" text-anchor="start" fill="#0a0a0a" stroke="#0a0a0a" stroke-width="0.25" >HER2</text><text x="409.20" y="90.80" font-size="6.3" font-weight="bold" text-anchor="end" fill="#0a0a0a" stroke="#0a0a0a" stroke-width="0.25" >Denaturant</text><polyline points="305.10,65.04 306.73,65.04 308.35,65.04 309.98,65.04 311.61,65.04 313.23,65.04 314.86,65.04 316.49,65.04 318.11,65.04 319.74,65.04 321.37,65.04 322.99,65.04 324.62,65.04 326.25,65.04 327.87,65.04 329.50,65.04 331.12,65.04 332.75,65.04 334.38,65.04 336.00,65.04 337.63,65.04 339.26,65.04 340.88,65.04 342.51,65.04 344.14,65.04 345.76,65.04 347.39,65.04 349.02,65.04 350.64,65.04 352.27,65.04 353.90,65.04 355.52,65.04 357.15,65.04 358.78,65.04 360.40,65.04 362.03,65.04 363.66,65.04 365.28,65.04 366.91,65.04 368.54,65.04 370.16,65.04 371.79,65.04 373.42,65.04 375.04,65.04 376.67,65.03 378.30,65.03 379.92,65.02 381.55,65.00 383.18,64.96 384.80,64.90 386.43,64.80 388.05,64.61 389.68,64.30 391.31,63.78 392.93,62.97 394.56,61.80 396.19,60.29 397.81,58.60 399.44,56.98 401.07,55.66 402.69,54.71 404.32,54.08 405.95,53.70 407.57,53.47 409.20,53.33" fill="none" stroke="#4a6fd0" stroke-width="0.75"/><polyline points="305.10,64.34 306.73,64.34 308.35,64.34 309.98,64.34 311.61,64.34 313.23,64.34 314.86,64.34 316.49,64.34 318.11,64.33 319.74,64.33 321.37,64.33 322.99,64.33 324.62,64.32 326.25,64.32 327.87,64.31 329.50,64.31 331.12,64.30 332.75,64.29 334.38,64.28 336.00,64.26 337.63,64.25 339.26,64.23 340.88,64.20 342.51,64.17 344.14,64.13 345.76,64.09 347.39,64.03 349.02,63.96 350.64,63.88 352.27,63.77 353.90,63.65 355.52,63.50 357.15,63.32 358.78,63.11 360.40,62.85 362.03,62.55 363.66,62.18 365.28,61.75 366.91,61.25 368.54,60.67 370.16,60.01 371.79,59.26 373.42,58.41 375.04,57.48 376.67,56.47 378.30,55.40 379.92,54.27 381.55,53.12 383.18,51.96 384.80,50.82 386.43,49.71 388.05,48.67 389.68,47.69 391.31,46.80 392.93,46.00 394.56,45.29 396.19,44.66 397.81,44.12 399.44,43.66 401.07,43.26 402.69,42.92 404.32,42.64 405.95,42.40 407.57,42.21 409.20,42.04" fill="none" stroke="#bdbdbd" stroke-width="0.75"/><polyline points="305.10,64.69 306.73,64.69 308.35,64.69 309.98,64.69 311.61,64.69 313.23,64.69 314.86,64.69 316.49,64.69 318.11,64.69 319.74,64.69 321.37,64.68 322.99,64.68 324.62,64.68 326.25,64.68 327.87,64.68 329.50,64.68 331.12,64.67 332.75,64.67 334.38,64.67 336.00,64.66 337.63,64.65 339.26,64.65 340.88,64.64 342.51,64.63 344.14,64.62 345.76,64.60 347.39,64.59 349.02,64.57 350.64,64.55 352.27,64.52 353.90,64.49 355.52,64.45 357.15,64.40 358.78,64.35 360.40,64.28 362.03,64.21 363.66,64.12 365.28,64.01 366.91,63.88 368.54,63.73 370.16,63.55 371.79,63.35 373.42,63.10 375.04,62.81 376.67,62.48 378.30,62.08 379.92,61.62 381.55,61.09 383.18,60.47 384.80,59.75 386.43,58.93 388.05,58.00 389.68,56.94 391.31,55.75 392.93,54.43 394.56,52.97 396.19,51.37 397.81,49.65 399.44,47.81 401.07,45.88 402.69,43.88 404.32,41.83 405.95,39.76 407.57,37.71 409.20,35.70" fill="none" stroke="#4fc84f" stroke-width="0.75"/><polyline points="305.10,64.69 306.73,64.69 308.35,64.69 309.98,64.69 311.61,64.69 313.23,64.69 314.86,64.69 316.49,64.69 318.11,64.69 319.74,64.68 321.37,64.68 322.99,64.68 324.62,64.68 326.25,64.68 327.87,64.67 329.50,64.67 331.12,64.66 332.75,64.66 334.38,64.65 336.00,64.64 337.63,64.63 339.26,64.62 340.88,64.60 342.51,64.59 344.14,64.56 345.76,64.54 347.39,64.51 349.02,64.47 350.64,64.42 352.27,64.37 353.90,64.30 355.52,64.23 357.15,64.13 358.78,64.02 360.40,63.88 362.03,63.72 363.66,63.53 365.28,63.29 366.91,63.02 368.54,62.69 370.16,62.31 371.79,61.86 373.42,61.33 375.04,60.71 376.67,59.99 378.30,59.17 379.92,58.23 381.55,57.16 383.18,55.98 384.80,54.66 386.43,53.23 388.05,51.70 389.68,50.07 391.31,48.37 392.93,46.63 394.56,44.89 396.19,43.16 397.81,41.48 399.44,39.87 401.07,38.36 402.69,36.96 404.32,35.68 405.95,34.53 407.57,33.50 409.20,32.59" fill="none" stroke="#f05a5a" stroke-width="0.75"/><polyline points="305.10,65.04 306.73,65.04 308.35,65.04 309.98,65.04 311.61,65.04 313.23,65.04 314.86,65.04 316.49,65.04 318.11,65.04 319.74,65.04 321.37,65.04 322.99,65.04 324.62,65.04 326.25,65.04 327.87,65.04 329.50,65.03 331.12,65.03 332.75,65.03 334.38,65.03 336.00,65.03 337.63,65.02 339.26,65.02 340.88,65.01 342.51,65.01 344.14,65.00 345.76,64.99 347.39,64.97 349.02,64.96 350.64,64.94 352.27,64.91 353.90,64.88 355.52,64.84 357.15,64.80 358.78,64.74 360.40,64.67 362.03,64.58 363.66,64.47 365.28,64.33 366.91,64.17 368.54,63.97 370.16,63.72 371.79,63.41 373.42,63.05 375.04,62.61 376.67,62.08 378.30,61.45 379.92,60.70 381.55,59.83 383.18,58.83 384.80,57.69 386.43,56.42 388.05,55.02 389.68,53.51 391.31,51.92 392.93,50.27 394.56,48.61 396.19,46.98 397.81,45.41 399.44,43.92 401.07,42.56 402.69,41.32 404.32,40.22 405.95,39.25 407.57,38.42 409.20,37.70" fill="none" stroke="#2a2a2a" stroke-width="0.75"/><rect x="303.58" y="63.17" width="3.04" height="3.04" fill="#0b3aa6"/><rect x="329.61" y="63.17" width="3.04" height="3.04" fill="#0b3aa6"/><rect x="342.02" y="60.72" width="3.04" height="3.04" fill="#0b3aa6"/><rect x="355.63" y="63.87" width="3.04" height="3.04" fill="#0b3aa6"/><rect x="368.05" y="63.87" width="3.04" height="3.04" fill="#0b3aa6"/><rect x="381.66" y="63.52" width="3.04" height="3.04" fill="#0b3aa6"/><rect x="394.07" y="59.68" width="3.04" height="3.04" fill="#0b3aa6"/><rect x="407.68" y="51.64" width="3.04" height="3.04" fill="#0b3aa6"/><path d="M305.10 61.33L306.72 64.24L303.49 64.24Z" fill="#a0a0a0"/><path d="M331.12 62.38L332.74 65.28L329.51 65.28Z" fill="#a0a0a0"/><path d="M343.54 62.38L345.16 65.28L341.93 65.28Z" fill="#a0a0a0"/><path d="M357.15 62.38L358.76 65.28L355.53 65.28Z" fill="#a0a0a0"/><path d="M369.57 58.18L371.18 61.09L367.95 61.09Z" fill="#a0a0a0"/><path d="M383.18 50.15L384.79 53.05L381.56 53.05Z" fill="#a0a0a0"/><path d="M395.59 40.93V46.52M394.49 40.93h2.2M394.49 46.52h2.2" stroke="#a0a0a0" stroke-width="0.6"/><path d="M395.59 42.11L397.21 45.01L393.98 45.01Z" fill="#a0a0a0"/><path d="M409.20 40.23V45.82M408.10 40.23h2.2M408.10 45.82h2.2" stroke="#a0a0a0" stroke-width="0.6"/><path d="M409.20 41.41L410.81 44.31L407.58 44.31Z" fill="#a0a0a0"/><path d="M305.10 63.43L306.72 65.04L305.10 66.66L303.49 65.04Z" fill="#1cb81c"/><path d="M331.12 63.43L332.74 65.04L331.12 66.66L329.51 65.04Z" fill="#1cb81c"/><path d="M343.54 63.43L345.16 65.04L343.54 66.66L341.93 65.04Z" fill="#1cb81c"/><path d="M357.15 63.43L358.76 65.04L357.15 66.66L355.53 65.04Z" fill="#1cb81c"/><path d="M369.57 62.38L371.18 63.99L369.57 65.61L367.95 63.99Z" fill="#1cb81c"/><path d="M383.18 57.83L384.79 59.45L383.18 61.06L381.56 59.45Z" fill="#1cb81c"/><path d="M395.59 50.63L397.21 52.25L395.59 53.86L393.98 52.25Z" fill="#1cb81c"/><path d="M409.20 34.07L410.81 35.68L409.20 37.30L407.58 35.68Z" fill="#1cb81c"/><path d="M305.10 66.40L306.81 63.32L303.39 63.32Z" fill="#ff1c1c"/><path d="M331.12 66.75L332.83 63.67L329.42 63.67Z" fill="#ff1c1c"/><path d="M343.54 66.75L345.25 63.67L341.83 63.67Z" fill="#ff1c1c"/><path d="M357.15 66.40L358.86 63.32L355.44 63.32Z" fill="#ff1c1c"/><path d="M369.57 63.95L371.28 60.88L367.86 60.88Z" fill="#ff1c1c"/><path d="M383.18 58.01L384.88 54.94L381.47 54.94Z" fill="#ff1c1c"/><path d="M395.59 47.18L397.30 44.10L393.88 44.10Z" fill="#ff1c1c"/><path d="M409.20 35.30L410.91 32.22L407.49 32.22Z" fill="#ff1c1c"/><circle cx="305.10" cy="65.04" r="1.61" fill="#0d0d0d"/><circle cx="331.12" cy="65.74" r="1.61" fill="#0d0d0d"/><circle cx="343.54" cy="64.34" r="1.61" fill="#0d0d0d"/><circle cx="357.15" cy="65.04" r="1.61" fill="#0d0d0d"/><circle cx="369.57" cy="62.24" r="1.61" fill="#0d0d0d"/><circle cx="383.18" cy="58.05" r="1.61" fill="#0d0d0d"/><circle cx="395.59" cy="46.87" r="1.61" fill="#0d0d0d"/><path d="M409.20 35.47V41.07M408.10 35.47h2.2M408.10 41.07h2.2" stroke="#0d0d0d" stroke-width="0.6"/><circle cx="409.20" cy="38.27" r="1.61" fill="#0d0d0d"/><path d="M307.40 9.50H314.60" stroke="#2a2a2a" stroke-width="0.55"/><circle cx="311.00" cy="9.50" r="1.50" fill="#0d0d0d"/><text x="319.30" y="11.50" font-size="5.85" font-weight="normal" text-anchor="start" fill="#0a0a0a" stroke="#0a0a0a" stroke-width="0.15" >4°C, 20 h</text><path d="M307.40 18.65H314.60" stroke="#bdbdbd" stroke-width="0.55"/><path d="M311.00 17.15L312.50 19.85L309.50 19.85Z" fill="#a0a0a0"/><text x="319.30" y="20.65" font-size="5.85" font-weight="normal" text-anchor="start" fill="#0a0a0a" stroke="#0a0a0a" stroke-width="0.15" >37°C, 4 h</text><path d="M307.40 27.80H314.60" stroke="#f05a5a" stroke-width="0.55"/><path d="M311.00 29.38L312.58 26.53L309.42 26.53Z" fill="#ff1c1c"/><text x="319.30" y="29.80" font-size="5.85" font-weight="normal" text-anchor="start" fill="#0a0a0a" stroke="#0a0a0a" stroke-width="0.15" >37°C, 2 h</text><path d="M307.40 36.95H314.60" stroke="#4fc84f" stroke-width="0.55"/><path d="M311.00 35.45L312.50 36.95L311.00 38.45L309.50 36.95Z" fill="#1cb81c"/><text x="319.30" y="38.95" font-size="5.85" font-weight="normal" text-anchor="start" fill="#0a0a0a" stroke="#0a0a0a" stroke-width="0.15" >37°C, 1 h</text><path d="M307.40 46.10H314.60" stroke="#4a6fd0" stroke-width="0.55"/><rect x="309.59" y="44.69" width="2.82" height="2.82" fill="#0b3aa6"/><text x="319.30" y="48.10" font-size="5.85" font-weight="normal" text-anchor="start" fill="#0a0a0a" stroke="#0a0a0a" stroke-width="0.15" >37°C, 10 m</text><text x="419.90" y="9.40" font-size="8" font-weight="bold" text-anchor="start" fill="#0a0a0a" stroke="#0a0a0a" stroke-width="0.25" >(D)</text><text x="423.00" y="58.75" font-size="5.95" font-weight="bold" text-anchor="middle" fill="#0a0a0a" stroke="#0a0a0a" stroke-width="0.25" transform="rotate(-90 423.00 58.75)" dy="2">Fluorescence intensity (a.u.)</text><path d="M440.00 23.80V93.70H543.40" stroke="#222222" stroke-width="1.0" fill="none"/><path d="M437.80 93.70H440.00" stroke="#222222" stroke-width="0.9"/><text x="436.80" y="95.55" font-size="5.15" font-weight="bold" text-anchor="end" fill="#0a0a0a" stroke="#0a0a0a" stroke-width="0.25" >0</text><path d="M437.80 79.72H440.00" stroke="#222222" stroke-width="0.9"/><text x="436.80" y="81.57" font-size="5.15" font-weight="bold" text-anchor="end" fill="#0a0a0a" stroke="#0a0a0a" stroke-width="0.25" >40</text><path d="M437.80 65.74H440.00" stroke="#222222" stroke-width="0.9"/><text x="436.80" y="67.59" font-size="5.15" font-weight="bold" text-anchor="end" fill="#0a0a0a" stroke="#0a0a0a" stroke-width="0.25" >80</text><path d="M437.80 51.76H440.00" stroke="#222222" stroke-width="0.9"/><text x="436.80" y="53.61" font-size="5.15" font-weight="bold" text-anchor="end" fill="#0a0a0a" stroke="#0a0a0a" stroke-width="0.25" >120</text><path d="M437.80 37.78H440.00" stroke="#222222" stroke-width="0.9"/><text x="436.80" y="39.63" font-size="5.15" font-weight="bold" text-anchor="end" fill="#0a0a0a" stroke="#0a0a0a" stroke-width="0.25" >160</text><path d="M437.80 23.80H440.00" stroke="#222222" stroke-width="0.9"/><text x="436.80" y="25.65" font-size="5.15" font-weight="bold" text-anchor="end" fill="#0a0a0a" stroke="#0a0a0a" stroke-width="0.25" >200</text><path d="M440.00 93.70V96.30" stroke="#222222" stroke-width="0.9"/><text x="440.00" y="102.70" font-size="5.15" font-weight="bold" text-anchor="middle" fill="#0a0a0a" stroke="#0a0a0a" stroke-width="0.25" >0</text><path d="M465.85 93.70V96.30" stroke="#222222" stroke-width="0.9"/><text x="465.85" y="102.70" font-size="5.15" font-weight="bold" text-anchor="middle" fill="#0a0a0a" stroke="#0a0a0a" stroke-width="0.25" >0.01</text><path d="M491.70 93.70V96.30" stroke="#222222" stroke-width="0.9"/><text x="491.70" y="102.70" font-size="5.15" font-weight="bold" text-anchor="middle" fill="#0a0a0a" stroke="#0a0a0a" stroke-width="0.25" >0.1</text><path d="M517.55 93.70V96.30" stroke="#222222" stroke-width="0.9"/><text x="517.55" y="102.70" font-size="5.15" font-weight="bold" text-anchor="middle" fill="#0a0a0a" stroke="#0a0a0a" stroke-width="0.25" >1</text><path d="M543.40 93.70V96.30" stroke="#222222" stroke-width="0.9"/><text x="543.40" y="102.70" font-size="5.15" font-weight="bold" text-anchor="middle" fill="#0a0a0a" stroke="#0a0a0a" stroke-width="0.25" >10</text><text x="491.70" y="111.50" font-size="6.35" font-weight="bold" text-anchor="middle" fill="#0a0a0a" stroke="#0a0a0a" stroke-width="0.25" >PDL1 (ng/μL)</text><text x="440.90" y="90.80" font-size="6.3" font-weight="bold" text-anchor="start" fill="#0a0a0a" stroke="#0a0a0a" stroke-width="0.25" >PDL1</text><text x="543.40" y="90.80" font-size="6.3" font-weight="bold" text-anchor="end" fill="#0a0a0a" stroke="#0a0a0a" stroke-width="0.25" >Denaturant</text><polyline points="440.00,62.24 441.62,62.24 443.23,62.24 444.85,62.24 446.46,62.24 448.08,62.24 449.69,62.24 451.31,62.24 452.93,62.24 454.54,62.24 456.16,62.24 457.77,62.24 459.39,62.24 461.00,62.24 462.62,62.24 464.23,62.24 465.85,62.24 467.47,62.24 469.08,62.24 470.70,62.24 472.31,62.24 473.93,62.23 475.54,62.23 477.16,62.22 478.77,62.22 480.39,62.21 482.01,62.19 483.62,62.17 485.24,62.15 486.85,62.11 488.47,62.06 490.08,61.99 491.70,61.90 493.32,61.77 494.93,61.60 496.55,61.38 498.16,61.07 499.78,60.68 501.39,60.16 503.01,59.50 504.62,58.68 506.24,57.68 507.86,56.52 509.47,55.21 511.09,53.80 512.70,52.37 514.32,50.97 515.93,49.68 517.55,48.53 519.17,47.55 520.78,46.75 522.40,46.10 524.01,45.60 525.63,45.21 527.24,44.91 528.86,44.69 530.48,44.53 532.09,44.41 533.71,44.32 535.32,44.25 536.94,44.20 538.55,44.17 540.17,44.14 541.78,44.12 543.40,44.11" fill="none" stroke="#bdbdbd" stroke-width="0.75"/><polyline points="440.00,62.24 441.62,62.24 443.23,62.24 444.85,62.24 446.46,62.24 448.08,62.24 449.69,62.24 451.31,62.24 452.93,62.24 454.54,62.24 456.16,62.24 457.77,62.24 459.39,62.24 461.00,62.24 462.62,62.24 464.23,62.24 465.85,62.24 467.47,62.24 469.08,62.24 470.70,62.24 472.31,62.24 473.93,62.24 475.54,62.24 477.16,62.24 478.77,62.24 480.39,62.24 482.01,62.24 483.62,62.24 485.24,62.24 486.85,62.24 488.47,62.24 490.08,62.24 491.70,62.24 493.32,62.24 494.93,62.24 496.55,62.24 498.16,62.24 499.78,62.23 501.39,62.22 503.01,62.21 504.62,62.19 506.24,62.15 507.86,62.09 509.47,61.99 511.09,61.83 512.70,61.58 514.32,61.18 515.93,60.60 517.55,59.78 519.17,58.71 520.78,57.45 522.40,56.14 524.01,54.93 525.63,53.93 527.24,53.19 528.86,52.67 530.48,52.33 532.09,52.11 533.71,51.98 535.32,51.89 536.94,51.84 538.55,51.81 540.17,51.79 541.78,51.78 543.40,51.77" fill="none" stroke="#4a6fd0" stroke-width="0.75"/><polyline points="440.00,62.07 441.62,62.07 443.23,62.07 444.85,62.07 446.46,62.07 448.08,62.07 449.69,62.07 451.31,62.07 452.93,62.07 454.54,62.07 456.16,62.07 457.77,62.07 459.39,62.07 461.00,62.07 462.62,62.07 464.23,62.07 465.85,62.07 467.47,62.07 469.08,62.07 470.70,62.07 472.31,62.07 473.93,62.07 475.54,62.07 477.16,62.07 478.77,62.07 480.39,62.07 482.01,62.07 483.62,62.07 485.24,62.07 486.85,62.07 488.47,62.07 490.08,62.07 491.70,62.07 493.32,62.07 494.93,62.07 496.55,62.07 498.16,62.07 499.78,62.07 501.39,62.07 503.01,62.07 504.62,62.07 506.24,62.07 507.86,62.07 509.47,62.07 511.09,62.07 512.70,62.07 514.32,62.01 515.93,61.28 517.55,55.15 519.17,45.49 520.78,43.55 522.40,43.39 524.01,43.37 525.63,43.37 527.24,43.37 528.86,43.37 530.48,43.37 532.09,43.37 533.71,43.37 535.32,43.37 536.94,43.37 538.55,43.37 540.17,43.37 541.78,43.37 543.40,43.37" fill="none" stroke="#4fc84f" stroke-width="0.75"/><polyline points="440.00,63.64 441.62,63.64 443.23,63.64 444.85,63.64 446.46,63.64 448.08,63.64 449.69,63.64 451.31,63.64 452.93,63.64 454.54,63.64 456.16,63.64 457.77,63.64 459.39,63.64 461.00,63.64 462.62,63.64 464.23,63.64 465.85,63.64 467.47,63.64 469.08,63.64 470.70,63.64 472.31,63.64 473.93,63.64 475.54,63.64 477.16,63.64 478.77,63.64 480.39,63.64 482.01,63.64 483.62,63.64 485.24,63.64 486.85,63.64 488.47,63.64 490.08,63.64 491.70,63.64 493.32,63.64 494.93,63.64 496.55,63.64 498.16,63.64 499.78,63.64 501.39,63.64 503.01,63.64 504.62,63.64 506.24,63.64 507.86,63.64 509.47,63.64 511.09,63.64 512.70,63.64 514.32,63.61 515.93,63.13 517.55,57.24 519.17,45.44 520.78,43.34 522.40,43.21 524.01,43.20 525.63,43.20 527.24,43.20 528.86,43.20 530.48,43.20 532.09,43.20 533.71,43.20 535.32,43.20 536.94,43.20 538.55,43.20 540.17,43.20 541.78,43.20 543.40,43.20" fill="none" stroke="#f05a5a" stroke-width="0.75"/><polyline points="440.00,64.34 441.62,64.34 443.23,64.34 444.85,64.34 446.46,64.34 448.08,64.34 449.69,64.34 451.31,64.34 452.93,64.34 454.54,64.34 456.16,64.34 457.77,64.34 459.39,64.34 461.00,64.34 462.62,64.34 464.23,64.34 465.85,64.34 467.47,64.34 469.08,64.34 470.70,64.34 472.31,64.34 473.93,64.34 475.54,64.34 477.16,64.34 478.77,64.34 480.39,64.34 482.01,64.34 483.62,64.34 485.24,64.34 486.85,64.34 488.47,64.34 490.08,64.34 491.70,64.34 493.32,64.34 494.93,64.33 496.55,64.33 498.16,64.32 499.78,64.31 501.39,64.30 503.01,64.27 504.62,64.23 506.24,64.17 507.86,64.08 509.47,63.95 511.09,63.75 512.70,63.44 514.32,63.00 515.93,62.38 517.55,61.53 519.17,60.43 520.78,59.09 522.40,57.59 524.01,56.05 525.63,54.61 527.24,53.38 528.86,52.40 530.48,51.66 532.09,51.12 533.71,50.75 535.32,50.50 536.94,50.34 538.55,50.22 540.17,50.15 541.78,50.10 543.40,50.07" fill="none" stroke="#2a2a2a" stroke-width="0.75"/><path d="M440.00 59.93L441.62 62.84L438.38 62.84Z" fill="#a0a0a0"/><path d="M465.85 60.63L467.47 63.54L464.24 63.54Z" fill="#a0a0a0"/><path d="M478.18 60.63L479.80 63.54L476.57 63.54Z" fill="#a0a0a0"/><path d="M491.70 60.63L493.31 63.54L490.08 63.54Z" fill="#a0a0a0"/><path d="M504.03 57.34L505.65 60.25L502.42 60.25Z" fill="#a0a0a0"/><path d="M517.55 47.00L519.16 49.91L515.93 49.91Z" fill="#a0a0a0"/><path d="M529.88 41.41L531.50 44.31L528.27 44.31Z" fill="#a0a0a0"/><path d="M543.40 41.41L545.01 44.31L541.78 44.31Z" fill="#a0a0a0"/><rect x="438.48" y="60.17" width="3.04" height="3.04" fill="#0b3aa6"/><rect x="464.33" y="60.38" width="3.04" height="3.04" fill="#0b3aa6"/><rect x="476.66" y="60.38" width="3.04" height="3.04" fill="#0b3aa6"/><rect x="490.18" y="60.38" width="3.04" height="3.04" fill="#0b3aa6"/><rect x="502.51" y="60.38" width="3.04" height="3.04" fill="#0b3aa6"/><rect x="516.03" y="60.38" width="3.04" height="3.04" fill="#0b3aa6"/><path d="M529.88 48.61V52.81M528.78 48.61h2.2M528.78 52.81h2.2" stroke="#0b3aa6" stroke-width="0.6"/><rect x="528.36" y="49.19" width="3.04" height="3.04" fill="#0b3aa6"/><rect x="541.88" y="50.59" width="3.04" height="3.04" fill="#0b3aa6"/><path d="M440.00 57.13L441.62 58.75L440.00 60.37L438.38 58.75Z" fill="#1cb81c"/><path d="M465.85 59.93L467.47 61.55L465.85 63.16L464.24 61.55Z" fill="#1cb81c"/><path d="M478.18 59.93L479.80 61.55L478.18 63.16L476.57 61.55Z" fill="#1cb81c"/><path d="M491.70 59.93L493.31 61.55L491.70 63.16L490.08 61.55Z" fill="#1cb81c"/><path d="M504.03 59.93L505.65 61.55L504.03 63.16L502.42 61.55Z" fill="#1cb81c"/><path d="M517.55 59.76L519.16 61.37L517.55 62.99L515.93 61.37Z" fill="#1cb81c"/><path d="M529.88 41.41L531.50 43.02L529.88 44.64L528.27 43.02Z" fill="#1cb81c"/><path d="M543.40 43.16L545.01 44.77L543.40 46.39L541.78 44.77Z" fill="#1cb81c"/><path d="M440.00 65.35L441.71 62.27L438.29 62.27Z" fill="#ff1c1c"/><path d="M465.85 65.35L467.56 62.27L464.14 62.27Z" fill="#ff1c1c"/><path d="M478.18 65.35L479.89 62.27L476.47 62.27Z" fill="#ff1c1c"/><path d="M491.70 65.35L493.41 62.27L489.99 62.27Z" fill="#ff1c1c"/><path d="M504.03 63.08L505.74 60.00L502.32 60.00Z" fill="#ff1c1c"/><path d="M517.55 56.96L519.26 53.89L515.84 53.89Z" fill="#ff1c1c"/><path d="M529.88 38.83V43.02M528.78 38.83h2.2M528.78 43.02h2.2" stroke="#ff1c1c" stroke-width="0.6"/><path d="M529.88 42.64L531.59 39.56L528.17 39.56Z" fill="#ff1c1c"/><path d="M543.40 45.78L545.11 42.70L541.69 42.70Z" fill="#ff1c1c"/><circle cx="440.00" cy="64.34" r="1.61" fill="#0d0d0d"/><circle cx="465.85" cy="64.69" r="1.61" fill="#0d0d0d"/><circle cx="478.18" cy="63.82" r="1.61" fill="#0d0d0d"/><circle cx="491.70" cy="64.52" r="1.61" fill="#0d0d0d"/><circle cx="504.03" cy="65.43" r="1.61" fill="#0d0d0d"/><circle cx="517.55" cy="62.94" r="1.61" fill="#0d0d0d"/><circle cx="529.88" cy="52.11" r="1.61" fill="#0d0d0d"/><circle cx="543.40" cy="49.73" r="1.61" fill="#0d0d0d"/><path d="M442.40 10.20H449.60" stroke="#2a2a2a" stroke-width="0.55"/><circle cx="446.00" cy="10.20" r="1.50" fill="#0d0d0d"/><text x="454.30" y="12.20" font-size="5.85" font-weight="normal" text-anchor="start" fill="#0a0a0a" stroke="#0a0a0a" stroke-width="0.15" >4°C, 20 h</text><path d="M442.40 19.45H449.60" stroke="#bdbdbd" stroke-width="0.55"/><path d="M446.00 17.95L447.50 20.65L444.50 20.65Z" fill="#a0a0a0"/><text x="454.30" y="21.45" font-size="5.85" font-weight="normal" text-anchor="start" fill="#0a0a0a" stroke="#0a0a0a" stroke-width="0.15" >37°C, 4 h</text><path d="M442.40 28.70H449.60" stroke="#f05a5a" stroke-width="0.55"/><path d="M446.00 30.28L447.58 27.43L444.42 27.43Z" fill="#ff1c1c"/><text x="454.30" y="30.70" font-size="5.85" font-weight="normal" text-anchor="start" fill="#0a0a0a" stroke="#0a0a0a" stroke-width="0.15" >37°C, 2 h</text><path d="M442.40 37.95H449.60" stroke="#4fc84f" stroke-width="0.55"/><path d="M446.00 36.45L447.50 37.95L446.00 39.45L444.50 37.95Z" fill="#1cb81c"/><text x="454.30" y="39.95" font-size="5.85" font-weight="normal" text-anchor="start" fill="#0a0a0a" stroke="#0a0a0a" stroke-width="0.15" >37°C, 1 h</text><path d="M442.40 47.20H449.60" stroke="#4a6fd0" stroke-width="0.55"/><rect x="444.59" y="45.79" width="2.82" height="2.82" fill="#0b3aa6"/><text x="454.30" y="49.20" font-size="5.85" font-weight="normal" text-anchor="start" fill="#0a0a0a" stroke="#0a0a0a" stroke-width="0.15" >37°C, 10 m</text><text x="5.20" y="134.10" font-size="8" font-weight="bold" text-anchor="start" fill="#0a0a0a" stroke="#0a0a0a" stroke-width="0.25" >(E)</text><text x="8.10" y="180.15" font-size="5.95" font-weight="bold" text-anchor="middle" fill="#0a0a0a" stroke="#0a0a0a" stroke-width="0.25" transform="rotate(-90 8.10 180.15)" dy="2">Fluorescence intensity (a.u.)</text><path d="M22.30 145.30V215.00H126.20" stroke="#222222" stroke-width="1.0" fill="none"/><path d="M20.10 215.00H22.30" stroke="#222222" stroke-width="0.9"/><text x="19.10" y="216.85" font-size="5.15" font-weight="bold" text-anchor="end" fill="#0a0a0a" stroke="#0a0a0a" stroke-width="0.25" >0</text><path d="M20.10 201.06H22.30" stroke="#222222" stroke-width="0.9"/><text x="19.10" y="202.91" font-size="5.15" font-weight="bold" text-anchor="end" fill="#0a0a0a" stroke="#0a0a0a" stroke-width="0.25" >10</text><path d="M20.10 187.12H22.30" stroke="#222222" stroke-width="0.9"/><text x="19.10" y="188.97" font-size="5.15" font-weight="bold" text-anchor="end" fill="#0a0a0a" stroke="#0a0a0a" stroke-width="0.25" >20</text><path d="M20.10 173.18H22.30" stroke="#222222" stroke-width="0.9"/><text x="19.10" y="175.03" font-size="5.15" font-weight="bold" text-anchor="end" fill="#0a0a0a" stroke="#0a0a0a" stroke-width="0.25" >30</text><path d="M20.10 159.24H22.30" stroke="#222222" stroke-width="0.9"/><text x="19.10" y="161.09" font-size="5.15" font-weight="bold" text-anchor="end" fill="#0a0a0a" stroke="#0a0a0a" stroke-width="0.25" >40</text><path d="M20.10 145.30H22.30" stroke="#222222" stroke-width="0.9"/><text x="19.10" y="147.15" font-size="5.15" font-weight="bold" text-anchor="end" fill="#0a0a0a" stroke="#0a0a0a" stroke-width="0.25" >50</text><path d="M22.30 215.00V217.60" stroke="#222222" stroke-width="0.9"/><text x="22.30" y="224.00" font-size="5.15" font-weight="bold" text-anchor="middle" fill="#0a0a0a" stroke="#0a0a0a" stroke-width="0.25" >0</text><path d="M48.28 215.00V217.60" stroke="#222222" stroke-width="0.9"/><text x="48.28" y="224.00" font-size="5.15" font-weight="bold" text-anchor="middle" fill="#0a0a0a" stroke="#0a0a0a" stroke-width="0.25" >0.01</text><path d="M74.25 215.00V217.60" stroke="#222222" stroke-width="0.9"/><text x="74.25" y="224.00" font-size="5.15" font-weight="bold" text-anchor="middle" fill="#0a0a0a" stroke="#0a0a0a" stroke-width="0.25" >0.1</text><path d="M100.23 215.00V217.60" stroke="#222222" stroke-width="0.9"/><text x="100.23" y="224.00" font-size="5.15" font-weight="bold" text-anchor="middle" fill="#0a0a0a" stroke="#0a0a0a" stroke-width="0.25" >1</text><path d="M126.20 215.00V217.60" stroke="#222222" stroke-width="0.9"/><text x="126.20" y="224.00" font-size="5.15" font-weight="bold" text-anchor="middle" fill="#0a0a0a" stroke="#0a0a0a" stroke-width="0.25" >10</text><text x="74.25" y="232.80" font-size="6.35" font-weight="bold" text-anchor="middle" fill="#0a0a0a" stroke="#0a0a0a" stroke-width="0.25" >HER2 (ng/μL)</text><text x="23.20" y="212.10" font-size="6.3" font-weight="bold" text-anchor="start" fill="#0a0a0a" stroke="#0a0a0a" stroke-width="0.25" >HER2</text><text x="126.20" y="212.10" font-size="6.3" font-weight="bold" text-anchor="end" fill="#0a0a0a" stroke="#0a0a0a" stroke-width="0.25" >PBS</text><polyline points="22.30,199.67 23.92,199.67 25.55,199.66 27.17,199.66 28.79,199.66 30.42,199.66 32.04,199.66 33.66,199.66 35.29,199.66 36.91,199.66 38.53,199.66 40.16,199.66 41.78,199.66 43.40,199.66 45.03,199.66 46.65,199.66 48.28,199.65 49.90,199.65 51.52,199.65 53.15,199.65 54.77,199.64 56.39,199.64 58.02,199.63 59.64,199.63 61.26,199.62 62.89,199.61 64.51,199.60 66.13,199.59 67.76,199.57 69.38,199.55 71.00,199.53 72.63,199.51 74.25,199.48 75.87,199.44 77.50,199.40 79.12,199.35 80.74,199.29 82.37,199.22 83.99,199.14 85.61,199.04 87.24,198.93 88.86,198.79 90.48,198.63 92.11,198.44 93.73,198.21 95.35,197.95 96.98,197.64 98.60,197.28 100.23,196.85 101.85,196.36 103.47,195.79 105.10,195.13 106.72,194.37 108.34,193.50 109.97,192.51 111.59,191.40 113.21,190.15 114.84,188.77 116.46,187.25 118.08,185.61 119.71,183.84 121.33,181.97 122.95,180.02 124.58,178.01 126.20,175.97" fill="none" stroke="#bdbdbd" stroke-width="0.75"/><polyline points="22.30,196.87 23.92,196.87 25.55,196.87 27.17,196.87 28.79,196.87 30.42,196.87 32.04,196.86 33.66,196.86 35.29,196.86 36.91,196.85 38.53,196.85 40.16,196.84 41.78,196.84 43.40,196.83 45.03,196.82 46.65,196.80 48.28,196.79 49.90,196.77 51.52,196.75 53.15,196.72 54.77,196.69 56.39,196.65 58.02,196.61 59.64,196.55 61.26,196.49 62.89,196.41 64.51,196.31 66.13,196.20 67.76,196.07 69.38,195.90 71.00,195.71 72.63,195.48 74.25,195.21 75.87,194.89 77.50,194.51 79.12,194.07 80.74,193.56 82.37,192.96 83.99,192.27 85.61,191.49 87.24,190.61 88.86,189.63 90.48,188.54 92.11,187.36 93.73,186.09 95.35,184.75 96.98,183.35 98.60,181.93 100.23,180.50 101.85,179.08 103.47,177.71 105.10,176.40 106.72,175.17 108.34,174.03 109.97,172.99 111.59,172.05 113.21,171.22 114.84,170.48 116.46,169.84 118.08,169.28 119.71,168.80 121.33,168.39 122.95,168.04 124.58,167.75 126.20,167.49" fill="none" stroke="#f05a5a" stroke-width="0.75"/><polyline points="22.30,196.87 23.92,196.87 25.55,196.87 27.17,196.87 28.79,196.87 30.42,196.87 32.04,196.87 33.66,196.87 35.29,196.86 36.91,196.86 38.53,196.86 40.16,196.85 41.78,196.85 43.40,196.84 45.03,196.83 46.65,196.82 48.28,196.81 49.90,196.79 51.52,196.78 53.15,196.76 54.77,196.73 56.39,196.70 58.02,196.67 59.64,196.62 61.26,196.57 62.89,196.51 64.51,196.44 66.13,196.35 67.76,196.24 69.38,196.11 71.00,195.96 72.63,195.77 74.25,195.55 75.87,195.29 77.50,194.98 79.12,194.62 80.74,194.19 82.37,193.69 83.99,193.10 85.61,192.43 87.24,191.65 88.86,190.76 90.48,189.76 92.11,188.64 93.73,187.40 95.35,186.06 96.98,184.62 98.60,183.09 100.23,181.51 101.85,179.89 103.47,178.26 105.10,176.65 106.72,175.09 108.34,173.60 109.97,172.21 111.59,170.91 113.21,169.73 114.84,168.67 116.46,167.72 118.08,166.88 119.71,166.15 121.33,165.52 122.95,164.97 124.58,164.51 126.20,164.11" fill="none" stroke="#2a2a2a" stroke-width="0.75"/><path d="M22.30 198.05L23.91 200.96L20.69 200.96Z" fill="#a0a0a0"/><path d="M48.28 198.05L49.89 200.96L46.66 200.96Z" fill="#a0a0a0"/><path d="M60.67 197.57V201.76M59.57 197.57h2.2M59.57 201.76h2.2" stroke="#a0a0a0" stroke-width="0.6"/><path d="M60.67 198.05L62.28 200.96L59.05 200.96Z" fill="#a0a0a0"/><path d="M74.25 198.61L75.86 201.52L72.64 201.52Z" fill="#a0a0a0"/><path d="M86.64 197.57V201.76M85.54 197.57h2.2M85.54 201.76h2.2" stroke="#a0a0a0" stroke-width="0.6"/><path d="M86.64 198.05L88.26 200.96L85.03 200.96Z" fill="#a0a0a0"/><path d="M100.23 195.40L101.84 198.31L98.61 198.31Z" fill="#a0a0a0"/><path d="M112.62 189.21V194.79M111.52 189.21h2.2M111.52 194.79h2.2" stroke="#a0a0a0" stroke-width="0.6"/><path d="M112.62 190.38L114.23 193.29L111.00 193.29Z" fill="#a0a0a0"/><path d="M126.20 173.74V179.31M125.10 173.74h2.2M125.10 179.31h2.2" stroke="#a0a0a0" stroke-width="0.6"/><path d="M126.20 174.91L127.81 177.82L124.59 177.82Z" fill="#a0a0a0"/><path d="M22.30 198.59L24.01 195.51L20.59 195.51Z" fill="#ff1c1c"/><path d="M48.28 199.28L49.99 196.21L46.57 196.21Z" fill="#ff1c1c"/><path d="M60.67 197.61L62.38 194.53L58.96 194.53Z" fill="#ff1c1c"/><path d="M74.25 197.05L75.96 193.98L72.54 193.98Z" fill="#ff1c1c"/><path d="M86.64 193.71L88.35 190.63L84.93 190.63Z" fill="#ff1c1c"/><path d="M100.23 182.28L101.94 179.20L98.52 179.20Z" fill="#ff1c1c"/><path d="M112.62 171.68L114.33 168.61L110.91 168.61Z" fill="#ff1c1c"/><path d="M126.20 165.23V170.81M125.10 165.23h2.2M125.10 170.81h2.2" stroke="#ff1c1c" stroke-width="0.6"/><path d="M126.20 169.73L127.91 166.65L124.49 166.65Z" fill="#ff1c1c"/><circle cx="22.30" cy="196.32" r="1.61" fill="#0d0d0d"/><circle cx="48.28" cy="197.99" r="1.61" fill="#0d0d0d"/><circle cx="60.67" cy="195.90" r="1.61" fill="#0d0d0d"/><circle cx="74.25" cy="195.34" r="1.61" fill="#0d0d0d"/><circle cx="86.64" cy="192.00" r="1.61" fill="#0d0d0d"/><circle cx="100.23" cy="183.22" r="1.61" fill="#0d0d0d"/><circle cx="112.62" cy="169.00" r="1.61" fill="#0d0d0d"/><path d="M126.20 160.63V169.00M125.10 160.63h2.2M125.10 169.00h2.2" stroke="#0d0d0d" stroke-width="0.6"/><circle cx="126.20" cy="164.82" r="1.61" fill="#0d0d0d"/><path d="M24.40 150.00H31.60" stroke="#2a2a2a" stroke-width="0.55"/><circle cx="28.00" cy="150.00" r="1.50" fill="#0d0d0d"/><text x="36.30" y="152.00" font-size="5.85" font-weight="normal" text-anchor="start" fill="#0a0a0a" stroke="#0a0a0a" stroke-width="0.15" >RT, 2 h</text><path d="M24.40 159.30H31.60" stroke="#bdbdbd" stroke-width="0.55"/><path d="M28.00 157.80L29.50 160.50L26.50 160.50Z" fill="#a0a0a0"/><text x="36.30" y="161.30" font-size="5.85" font-weight="normal" text-anchor="start" fill="#0a0a0a" stroke="#0a0a0a" stroke-width="0.15" >37°C, 30 m</text><path d="M24.40 168.60H31.60" stroke="#f05a5a" stroke-width="0.55"/><path d="M28.00 170.18L29.58 167.33L26.42 167.33Z" fill="#ff1c1c"/><text x="36.30" y="170.60" font-size="5.85" font-weight="normal" text-anchor="start" fill="#0a0a0a" stroke="#0a0a0a" stroke-width="0.15" >No blocking</text><text x="148.70" y="134.10" font-size="8" font-weight="bold" text-anchor="start" fill="#0a0a0a" stroke="#0a0a0a" stroke-width="0.25" >(F)</text><text x="151.20" y="180.15" font-size="5.95" font-weight="bold" text-anchor="middle" fill="#0a0a0a" stroke="#0a0a0a" stroke-width="0.25" transform="rotate(-90 151.20 180.15)" dy="2">Fluorescence intensity (a.u.)</text><path d="M165.40 145.30V215.00H269.30" stroke="#222222" stroke-width="1.0" fill="none"/><path d="M163.20 215.00H165.40" stroke="#222222" stroke-width="0.9"/><text x="162.20" y="216.85" font-size="5.15" font-weight="bold" text-anchor="end" fill="#0a0a0a" stroke="#0a0a0a" stroke-width="0.25" >0</text><path d="M163.20 191.77H165.40" stroke="#222222" stroke-width="0.9"/><text x="162.20" y="193.62" font-size="5.15" font-weight="bold" text-anchor="end" fill="#0a0a0a" stroke="#0a0a0a" stroke-width="0.25" >10</text><path d="M163.20 168.53H165.40" stroke="#222222" stroke-width="0.9"/><text x="162.20" y="170.38" font-size="5.15" font-weight="bold" text-anchor="end" fill="#0a0a0a" stroke="#0a0a0a" stroke-width="0.25" >20</text><path d="M163.20 145.30H165.40" stroke="#222222" stroke-width="0.9"/><text x="162.20" y="147.15" font-size="5.15" font-weight="bold" text-anchor="end" fill="#0a0a0a" stroke="#0a0a0a" stroke-width="0.25" >30</text><path d="M165.40 215.00V217.60" stroke="#222222" stroke-width="0.9"/><text x="165.40" y="224.00" font-size="5.15" font-weight="bold" text-anchor="middle" fill="#0a0a0a" stroke="#0a0a0a" stroke-width="0.25" >0</text><path d="M191.38 215.00V217.60" stroke="#222222" stroke-width="0.9"/><text x="191.38" y="224.00" font-size="5.15" font-weight="bold" text-anchor="middle" fill="#0a0a0a" stroke="#0a0a0a" stroke-width="0.25" >0.01</text><path d="M217.35 215.00V217.60" stroke="#222222" stroke-width="0.9"/><text x="217.35" y="224.00" font-size="5.15" font-weight="bold" text-anchor="middle" fill="#0a0a0a" stroke="#0a0a0a" stroke-width="0.25" >0.1</text><path d="M243.33 215.00V217.60" stroke="#222222" stroke-width="0.9"/><text x="243.33" y="224.00" font-size="5.15" font-weight="bold" text-anchor="middle" fill="#0a0a0a" stroke="#0a0a0a" stroke-width="0.25" >1</text><path d="M269.30 215.00V217.60" stroke="#222222" stroke-width="0.9"/><text x="269.30" y="224.00" font-size="5.15" font-weight="bold" text-anchor="middle" fill="#0a0a0a" stroke="#0a0a0a" stroke-width="0.25" >10</text><text x="217.35" y="232.80" font-size="6.35" font-weight="bold" text-anchor="middle" fill="#0a0a0a" stroke="#0a0a0a" stroke-width="0.25" >PDL1 (ng/μL)</text><text x="166.30" y="212.10" font-size="6.3" font-weight="bold" text-anchor="start" fill="#0a0a0a" stroke="#0a0a0a" stroke-width="0.25" >PDL1</text><text x="269.30" y="212.10" font-size="6.3" font-weight="bold" text-anchor="end" fill="#0a0a0a" stroke="#0a0a0a" stroke-width="0.25" >PBS</text><polyline points="165.40,195.25 167.02,195.24 168.65,195.24 170.27,195.24 171.89,195.24 173.52,195.24 175.14,195.23 176.76,195.23 178.39,195.23 180.01,195.22 181.63,195.21 183.26,195.21 184.88,195.20 186.50,195.19 188.13,195.17 189.75,195.16 191.38,195.14 193.00,195.11 194.62,195.09 196.25,195.05 197.87,195.01 199.49,194.96 201.12,194.91 202.74,194.84 204.36,194.75 205.99,194.65 207.61,194.53 209.23,194.39 210.86,194.23 212.48,194.03 214.10,193.80 215.73,193.53 217.35,193.21 218.97,192.84 220.60,192.42 222.22,191.95 223.84,191.41 225.47,190.80 227.09,190.14 228.71,189.42 230.34,188.65 231.96,187.83 233.58,186.98 235.21,186.12 236.83,185.25 238.45,184.39 240.08,183.57 241.70,182.77 243.33,182.03 244.95,181.35 246.57,180.72 248.20,180.16 249.82,179.66 251.44,179.22 253.07,178.83 254.69,178.50 256.31,178.21 257.94,177.97 259.56,177.76 261.18,177.58 262.81,177.43 264.43,177.31 266.05,177.20 267.68,177.11 269.30,177.04" fill="none" stroke="#bdbdbd" stroke-width="0.75"/><polyline points="165.40,186.89 167.02,186.89 168.65,186.89 170.27,186.89 171.89,186.89 173.52,186.89 175.14,186.89 176.76,186.89 178.39,186.89 180.01,186.89 181.63,186.89 183.26,186.89 184.88,186.89 186.50,186.89 188.13,186.89 189.75,186.89 191.38,186.89 193.00,186.89 194.62,186.89 196.25,186.89 197.87,186.89 199.49,186.89 201.12,186.89 202.74,186.89 204.36,186.89 205.99,186.89 207.61,186.89 209.23,186.89 210.86,186.89 212.48,186.89 214.10,186.89 215.73,186.89 217.35,186.89 218.97,186.89 220.60,186.88 222.22,186.87 223.84,186.84 225.47,186.73 227.09,186.39 228.71,185.44 230.34,183.12 231.96,179.27 233.58,175.65 235.21,173.66 236.83,172.88 238.45,172.61 240.08,172.52 241.70,172.50 243.33,172.49 244.95,172.48 246.57,172.48 248.20,172.48 249.82,172.48 251.44,172.48 253.07,172.48 254.69,172.48 256.31,172.48 257.94,172.48 259.56,172.48 261.18,172.48 262.81,172.48 264.43,172.48 266.05,172.48 267.68,172.48 269.30,172.48" fill="none" stroke="#f05a5a" stroke-width="0.75"/><polyline points="165.40,183.63 167.02,183.63 168.65,183.63 170.27,183.63 171.89,183.63 173.52,183.63 175.14,183.63 176.76,183.63 178.39,183.63 180.01,183.63 181.63,183.63 183.26,183.63 184.88,183.63 186.50,183.63 188.13,183.63 189.75,183.63 191.38,183.63 193.00,183.63 194.62,183.63 196.25,183.63 197.87,183.63 199.49,183.63 201.12,183.63 202.74,183.63 204.36,183.63 205.99,183.63 207.61,183.63 209.23,183.63 210.86,183.63 212.48,183.63 214.10,183.63 215.73,183.63 217.35,183.63 218.97,183.63 220.60,183.63 222.22,183.63 223.84,183.63 225.47,183.63 227.09,183.63 228.71,183.63 230.34,183.63 231.96,183.63 233.58,183.63 235.21,183.62 236.83,183.58 238.45,183.41 240.08,182.73 241.70,180.38 243.33,175.15 244.95,169.93 246.57,167.58 248.20,166.90 249.82,166.73 251.44,166.69 253.07,166.68 254.69,166.68 256.31,166.67 257.94,166.67 259.56,166.67 261.18,166.67 262.81,166.67 264.43,166.67 266.05,166.67 267.68,166.67 269.30,166.67" fill="none" stroke="#2a2a2a" stroke-width="0.75"/><path d="M165.40 194.80L167.02 197.71L163.78 197.71Z" fill="#a0a0a0"/><path d="M191.38 193.16V197.81M190.28 193.16h2.2M190.28 197.81h2.2" stroke="#a0a0a0" stroke-width="0.6"/><path d="M191.38 193.87L192.99 196.78L189.76 196.78Z" fill="#a0a0a0"/><path d="M203.77 193.17L205.38 196.08L202.15 196.08Z" fill="#a0a0a0"/><path d="M217.35 190.14V194.79M216.25 190.14h2.2M216.25 194.79h2.2" stroke="#a0a0a0" stroke-width="0.6"/><path d="M217.35 190.85L218.97 193.76L215.74 193.76Z" fill="#a0a0a0"/><path d="M229.74 182.47V196.41M228.64 182.47h2.2M228.64 196.41h2.2" stroke="#a0a0a0" stroke-width="0.6"/><path d="M229.74 187.83L231.36 190.74L228.13 190.74Z" fill="#a0a0a0"/><path d="M243.33 176.43V185.73M242.23 176.43h2.2M242.23 185.73h2.2" stroke="#a0a0a0" stroke-width="0.6"/><path d="M243.33 179.46L244.94 182.37L241.71 182.37Z" fill="#a0a0a0"/><path d="M255.72 172.48V181.78M254.62 172.48h2.2M254.62 181.78h2.2" stroke="#a0a0a0" stroke-width="0.6"/><path d="M255.72 175.51L257.33 178.42L254.10 178.42Z" fill="#a0a0a0"/><path d="M269.30 175.50V184.80M268.20 175.50h2.2M268.20 184.80h2.2" stroke="#a0a0a0" stroke-width="0.6"/><path d="M269.30 178.53L270.92 181.44L267.69 181.44Z" fill="#a0a0a0"/><path d="M165.40 187.90L167.11 184.82L163.69 184.82Z" fill="#ff1c1c"/><path d="M191.38 189.53L193.09 186.45L189.66 186.45Z" fill="#ff1c1c"/><path d="M203.77 191.15L205.48 188.08L202.06 188.08Z" fill="#ff1c1c"/><path d="M217.35 179.45V186.42M216.25 179.45h2.2M216.25 186.42h2.2" stroke="#ff1c1c" stroke-width="0.6"/><path d="M217.35 184.65L219.06 181.57L215.64 181.57Z" fill="#ff1c1c"/><path d="M229.74 185.11L231.45 182.03L228.03 182.03Z" fill="#ff1c1c"/><path d="M243.33 164.58V170.16M242.23 164.58h2.2M242.23 170.16h2.2" stroke="#ff1c1c" stroke-width="0.6"/><path d="M243.33 169.08L245.04 166.00L241.62 166.00Z" fill="#ff1c1c"/><path d="M255.72 171.55V176.20M254.62 171.55h2.2M254.62 176.20h2.2" stroke="#ff1c1c" stroke-width="0.6"/><path d="M255.72 175.59L257.43 172.51L254.01 172.51Z" fill="#ff1c1c"/><path d="M269.30 173.18V177.83M268.20 173.18h2.2M268.20 177.83h2.2" stroke="#ff1c1c" stroke-width="0.6"/><path d="M269.30 177.21L271.01 174.14L267.59 174.14Z" fill="#ff1c1c"/><circle cx="165.40" cy="180.85" r="1.61" fill="#0d0d0d"/><circle cx="191.38" cy="183.40" r="1.61" fill="#0d0d0d"/><circle cx="203.77" cy="183.40" r="1.61" fill="#0d0d0d"/><circle cx="217.35" cy="186.89" r="1.61" fill="#0d0d0d"/><circle cx="229.74" cy="183.40" r="1.61" fill="#0d0d0d"/><circle cx="243.33" cy="176.90" r="1.61" fill="#0d0d0d"/><circle cx="255.72" cy="164.58" r="1.61" fill="#0d0d0d"/><path d="M269.30 166.67V170.39M268.20 166.67h2.2M268.20 170.39h2.2" stroke="#0d0d0d" stroke-width="0.6"/><circle cx="269.30" cy="168.53" r="1.61" fill="#0d0d0d"/><path d="M167.10 150.00H174.30" stroke="#2a2a2a" stroke-width="0.55"/><circle cx="170.70" cy="150.00" r="1.50" fill="#0d0d0d"/><text x="179.00" y="152.00" font-size="5.85" font-weight="normal" text-anchor="start" fill="#0a0a0a" stroke="#0a0a0a" stroke-width="0.15" >RT, 2 h</text><path d="M167.10 159.30H174.30" stroke="#bdbdbd" stroke-width="0.55"/><path d="M170.70 157.80L172.20 160.50L169.20 160.50Z" fill="#a0a0a0"/><text x="179.00" y="161.30" font-size="5.85" font-weight="normal" text-anchor="start" fill="#0a0a0a" stroke="#0a0a0a" stroke-width="0.15" >37°C, 30 m</text><path d="M167.10 168.60H174.30" stroke="#f05a5a" stroke-width="0.55"/><path d="M170.70 170.18L172.28 167.33L169.12 167.33Z" fill="#ff1c1c"/><text x="179.00" y="170.60" font-size="5.85" font-weight="normal" text-anchor="start" fill="#0a0a0a" stroke="#0a0a0a" stroke-width="0.15" >No blocking</text><text x="284.90" y="134.10" font-size="8" font-weight="bold" text-anchor="start" fill="#0a0a0a" stroke="#0a0a0a" stroke-width="0.25" >(G)</text><text x="288.10" y="180.15" font-size="5.95" font-weight="bold" text-anchor="middle" fill="#0a0a0a" stroke="#0a0a0a" stroke-width="0.25" transform="rotate(-90 288.10 180.15)" dy="2">Fluorescence intensity (a.u.)</text><path d="M305.10 145.30V215.00H409.20" stroke="#222222" stroke-width="1.0" fill="none"/><path d="M302.90 215.00H305.10" stroke="#222222" stroke-width="0.9"/><text x="301.90" y="216.85" font-size="5.15" font-weight="bold" text-anchor="end" fill="#0a0a0a" stroke="#0a0a0a" stroke-width="0.25" >0</text><path d="M302.90 201.06H305.10" stroke="#222222" stroke-width="0.9"/><text x="301.90" y="202.91" font-size="5.15" font-weight="bold" text-anchor="end" fill="#0a0a0a" stroke="#0a0a0a" stroke-width="0.25" >50</text><path d="M302.90 187.12H305.10" stroke="#222222" stroke-width="0.9"/><text x="301.90" y="188.97" font-size="5.15" font-weight="bold" text-anchor="end" fill="#0a0a0a" stroke="#0a0a0a" stroke-width="0.25" >100</text><path d="M302.90 173.18H305.10" stroke="#222222" stroke-width="0.9"/><text x="301.90" y="175.03" font-size="5.15" font-weight="bold" text-anchor="end" fill="#0a0a0a" stroke="#0a0a0a" stroke-width="0.25" >150</text><path d="M302.90 159.24H305.10" stroke="#222222" stroke-width="0.9"/><text x="301.90" y="161.09" font-size="5.15" font-weight="bold" text-anchor="end" fill="#0a0a0a" stroke="#0a0a0a" stroke-width="0.25" >200</text><path d="M302.90 145.30H305.10" stroke="#222222" stroke-width="0.9"/><text x="301.90" y="147.15" font-size="5.15" font-weight="bold" text-anchor="end" fill="#0a0a0a" stroke="#0a0a0a" stroke-width="0.25" >250</text><path d="M305.10 215.00V217.60" stroke="#222222" stroke-width="0.9"/><text x="305.10" y="224.00" font-size="5.15" font-weight="bold" text-anchor="middle" fill="#0a0a0a" stroke="#0a0a0a" stroke-width="0.25" >0</text><path d="M331.12 215.00V217.60" stroke="#222222" stroke-width="0.9"/><text x="331.12" y="224.00" font-size="5.15" font-weight="bold" text-anchor="middle" fill="#0a0a0a" stroke="#0a0a0a" stroke-width="0.25" >0.01</text><path d="M357.15 215.00V217.60" stroke="#222222" stroke-width="0.9"/><text x="357.15" y="224.00" font-size="5.15" font-weight="bold" text-anchor="middle" fill="#0a0a0a" stroke="#0a0a0a" stroke-width="0.25" >0.1</text><path d="M383.18 215.00V217.60" stroke="#222222" stroke-width="0.9"/><text x="383.18" y="224.00" font-size="5.15" font-weight="bold" text-anchor="middle" fill="#0a0a0a" stroke="#0a0a0a" stroke-width="0.25" >1</text><path d="M409.20 215.00V217.60" stroke="#222222" stroke-width="0.9"/><text x="409.20" y="224.00" font-size="5.15" font-weight="bold" text-anchor="middle" fill="#0a0a0a" stroke="#0a0a0a" stroke-width="0.25" >10</text><text x="357.15" y="232.80" font-size="6.35" font-weight="bold" text-anchor="middle" fill="#0a0a0a" stroke="#0a0a0a" stroke-width="0.25" >HER2 (ng/μL)</text><text x="306.00" y="212.10" font-size="6.3" font-weight="bold" text-anchor="start" fill="#0a0a0a" stroke="#0a0a0a" stroke-width="0.25" >HER2</text><text x="409.20" y="212.10" font-size="6.3" font-weight="bold" text-anchor="end" fill="#0a0a0a" stroke="#0a0a0a" stroke-width="0.25" >Denaturant</text><polyline points="305.10,194.37 306.73,194.37 308.35,194.37 309.98,194.37 311.61,194.37 313.23,194.37 314.86,194.37 316.49,194.37 318.11,194.37 319.74,194.37 321.37,194.37 322.99,194.37 324.62,194.37 326.25,194.37 327.87,194.37 329.50,194.36 331.12,194.36 332.75,194.36 334.38,194.36 336.00,194.36 337.63,194.36 339.26,194.36 340.88,194.35 342.51,194.35 344.14,194.35 345.76,194.34 347.39,194.34 349.02,194.33 350.64,194.32 352.27,194.31 353.90,194.30 355.52,194.29 357.15,194.27 358.78,194.25 360.40,194.23 362.03,194.20 363.66,194.16 365.28,194.12 366.91,194.07 368.54,194.01 370.16,193.94 371.79,193.85 373.42,193.75 375.04,193.62 376.67,193.47 378.30,193.29 379.92,193.07 381.55,192.81 383.18,192.50 384.80,192.14 386.43,191.70 388.05,191.19 389.68,190.58 391.31,189.88 392.93,189.05 394.56,188.10 396.19,187.00 397.81,185.75 399.44,184.34 401.07,182.77 402.69,181.03 404.32,179.14 405.95,177.11 407.57,174.96 409.20,172.73" fill="none" stroke="#bdbdbd" stroke-width="0.75"/><polyline points="305.10,191.85 306.73,191.85 308.35,191.85 309.98,191.84 311.61,191.84 313.23,191.84 314.86,191.83 316.49,191.83 318.11,191.83 319.74,191.82 321.37,191.81 322.99,191.81 324.62,191.80 326.25,191.79 327.87,191.78 329.50,191.77 331.12,191.75 332.75,191.73 334.38,191.72 336.00,191.69 337.63,191.67 339.26,191.64 340.88,191.60 342.51,191.56 344.14,191.52 345.76,191.47 347.39,191.41 349.02,191.34 350.64,191.26 352.27,191.17 353.90,191.06 355.52,190.94 357.15,190.81 358.78,190.65 360.40,190.47 362.03,190.27 363.66,190.03 365.28,189.77 366.91,189.47 368.54,189.13 370.16,188.75 371.79,188.32 373.42,187.84 375.04,187.30 376.67,186.71 378.30,186.06 379.92,185.34 381.55,184.55 383.18,183.70 384.80,182.79 386.43,181.82 388.05,180.80 389.68,179.72 391.31,178.60 392.93,177.46 394.56,176.29 396.19,175.12 397.81,173.95 399.44,172.80 401.07,171.67 402.69,170.59 404.32,169.55 405.95,168.56 407.57,167.63 409.20,166.77" fill="none" stroke="#2a2a2a" stroke-width="0.75"/><polyline points="305.10,187.67 306.73,187.67 308.35,187.67 309.98,187.66 311.61,187.66 313.23,187.66 314.86,187.66 316.49,187.65 318.11,187.65 319.74,187.64 321.37,187.64 322.99,187.63 324.62,187.62 326.25,187.61 327.87,187.60 329.50,187.59 331.12,187.57 332.75,187.56 334.38,187.54 336.00,187.51 337.63,187.48 339.26,187.45 340.88,187.41 342.51,187.36 344.14,187.31 345.76,187.25 347.39,187.18 349.02,187.09 350.64,186.99 352.27,186.88 353.90,186.75 355.52,186.59 357.15,186.41 358.78,186.20 360.40,185.96 362.03,185.69 363.66,185.37 365.28,185.00 366.91,184.58 368.54,184.10 370.16,183.56 371.79,182.95 373.42,182.26 375.04,181.50 376.67,180.65 378.30,179.71 379.92,178.70 381.55,177.59 383.18,176.41 384.80,175.16 386.43,173.86 388.05,172.50 389.68,171.12 391.31,169.72 392.93,168.32 394.56,166.94 396.19,165.60 397.81,164.32 399.44,163.09 401.07,161.94 402.69,160.87 404.32,159.88 405.95,158.98 407.57,158.16 409.20,157.42" fill="none" stroke="#f05a5a" stroke-width="0.75"/><path d="M305.10 192.75L306.72 195.66L303.49 195.66Z" fill="#a0a0a0"/><path d="M331.12 192.75L332.74 195.66L329.51 195.66Z" fill="#a0a0a0"/><path d="M343.54 192.75L345.16 195.66L341.93 195.66Z" fill="#a0a0a0"/><path d="M357.15 192.75L358.76 195.66L355.53 195.66Z" fill="#a0a0a0"/><path d="M369.57 192.20L371.18 195.10L367.95 195.10Z" fill="#a0a0a0"/><path d="M383.18 190.52L384.79 193.43L381.56 193.43Z" fill="#a0a0a0"/><path d="M395.59 186.62L397.21 189.53L393.98 189.53Z" fill="#a0a0a0"/><path d="M409.20 171.01L410.81 173.91L407.58 173.91Z" fill="#a0a0a0"/><circle cx="305.10" cy="191.02" r="1.61" fill="#0d0d0d"/><circle cx="331.12" cy="191.58" r="1.61" fill="#0d0d0d"/><circle cx="343.54" cy="192.14" r="1.61" fill="#0d0d0d"/><circle cx="357.15" cy="192.14" r="1.61" fill="#0d0d0d"/><circle cx="369.57" cy="190.19" r="1.61" fill="#0d0d0d"/><circle cx="383.18" cy="185.45" r="1.61" fill="#0d0d0d"/><circle cx="395.59" cy="176.80" r="1.61" fill="#0d0d0d"/><path d="M409.20 165.93V169.28M408.10 165.93h2.2M408.10 169.28h2.2" stroke="#0d0d0d" stroke-width="0.6"/><circle cx="409.20" cy="167.60" r="1.61" fill="#0d0d0d"/><path d="M305.10 187.16L306.81 184.08L303.39 184.08Z" fill="#ff1c1c"/><path d="M331.12 189.11L332.83 186.03L329.42 186.03Z" fill="#ff1c1c"/><path d="M343.54 189.95L345.25 186.87L341.83 186.87Z" fill="#ff1c1c"/><path d="M357.15 189.11L358.86 186.03L355.44 186.03Z" fill="#ff1c1c"/><path d="M369.57 185.76L371.28 182.69L367.86 182.69Z" fill="#ff1c1c"/><path d="M383.18 179.07L384.88 175.99L381.47 175.99Z" fill="#ff1c1c"/><path d="M395.59 166.25L397.30 163.17L393.88 163.17Z" fill="#ff1c1c"/><path d="M409.20 154.78V159.24M408.10 154.78h2.2M408.10 159.24h2.2" stroke="#ff1c1c" stroke-width="0.6"/><path d="M409.20 158.72L410.91 155.64L407.49 155.64Z" fill="#ff1c1c"/><path d="M308.40 150.00H315.60" stroke="#2a2a2a" stroke-width="0.55"/><circle cx="312.00" cy="150.00" r="1.50" fill="#0d0d0d"/><text x="320.30" y="152.00" font-size="5.85" font-weight="normal" text-anchor="start" fill="#0a0a0a" stroke="#0a0a0a" stroke-width="0.15" >RT, 2 h</text><path d="M308.40 159.30H315.60" stroke="#bdbdbd" stroke-width="0.55"/><path d="M312.00 157.80L313.50 160.50L310.50 160.50Z" fill="#a0a0a0"/><text x="320.30" y="161.30" font-size="5.85" font-weight="normal" text-anchor="start" fill="#0a0a0a" stroke="#0a0a0a" stroke-width="0.15" >37°C, 30 m</text><path d="M308.40 168.60H315.60" stroke="#f05a5a" stroke-width="0.55"/><path d="M312.00 170.18L313.58 167.33L310.42 167.33Z" fill="#ff1c1c"/><text x="320.30" y="170.60" font-size="5.85" font-weight="normal" text-anchor="start" fill="#0a0a0a" stroke="#0a0a0a" stroke-width="0.15" >No blocking</text><text x="419.90" y="134.10" font-size="8" font-weight="bold" text-anchor="start" fill="#0a0a0a" stroke="#0a0a0a" stroke-width="0.25" >(H)</text><text x="423.00" y="180.15" font-size="5.95" font-weight="bold" text-anchor="middle" fill="#0a0a0a" stroke="#0a0a0a" stroke-width="0.25" transform="rotate(-90 423.00 180.15)" dy="2">Fluorescence intensity (a.u.)</text><path d="M440.00 145.30V215.00H543.40" stroke="#222222" stroke-width="1.0" fill="none"/><path d="M437.80 215.00H440.00" stroke="#222222" stroke-width="0.9"/><text x="436.80" y="216.85" font-size="5.15" font-weight="bold" text-anchor="end" fill="#0a0a0a" stroke="#0a0a0a" stroke-width="0.25" >0</text><path d="M437.80 197.57H440.00" stroke="#222222" stroke-width="0.9"/><text x="436.80" y="199.42" font-size="5.15" font-weight="bold" text-anchor="end" fill="#0a0a0a" stroke="#0a0a0a" stroke-width="0.25" >50</text><path d="M437.80 180.15H440.00" stroke="#222222" stroke-width="0.9"/><text x="436.80" y="182.00" font-size="5.15" font-weight="bold" text-anchor="end" fill="#0a0a0a" stroke="#0a0a0a" stroke-width="0.25" >100</text><path d="M437.80 162.73H440.00" stroke="#222222" stroke-width="0.9"/><text x="436.80" y="164.58" font-size="5.15" font-weight="bold" text-anchor="end" fill="#0a0a0a" stroke="#0a0a0a" stroke-width="0.25" >150</text><path d="M437.80 145.30H440.00" stroke="#222222" stroke-width="0.9"/><text x="436.80" y="147.15" font-size="5.15" font-weight="bold" text-anchor="end" fill="#0a0a0a" stroke="#0a0a0a" stroke-width="0.25" >200</text><path d="M440.00 215.00V217.60" stroke="#222222" stroke-width="0.9"/><text x="440.00" y="224.00" font-size="5.15" font-weight="bold" text-anchor="middle" fill="#0a0a0a" stroke="#0a0a0a" stroke-width="0.25" >0</text><path d="M465.85 215.00V217.60" stroke="#222222" stroke-width="0.9"/><text x="465.85" y="224.00" font-size="5.15" font-weight="bold" text-anchor="middle" fill="#0a0a0a" stroke="#0a0a0a" stroke-width="0.25" >0.01</text><path d="M491.70 215.00V217.60" stroke="#222222" stroke-width="0.9"/><text x="491.70" y="224.00" font-size="5.15" font-weight="bold" text-anchor="middle" fill="#0a0a0a" stroke="#0a0a0a" stroke-width="0.25" >0.1</text><path d="M517.55 215.00V217.60" stroke="#222222" stroke-width="0.9"/><text x="517.55" y="224.00" font-size="5.15" font-weight="bold" text-anchor="middle" fill="#0a0a0a" stroke="#0a0a0a" stroke-width="0.25" >1</text><path d="M543.40 215.00V217.60" stroke="#222222" stroke-width="0.9"/><text x="543.40" y="224.00" font-size="5.15" font-weight="bold" text-anchor="middle" fill="#0a0a0a" stroke="#0a0a0a" stroke-width="0.25" >10</text><text x="491.70" y="232.80" font-size="6.35" font-weight="bold" text-anchor="middle" fill="#0a0a0a" stroke="#0a0a0a" stroke-width="0.25" >PDL1 (ng/μL)</text><text x="440.90" y="212.10" font-size="6.3" font-weight="bold" text-anchor="start" fill="#0a0a0a" stroke="#0a0a0a" stroke-width="0.25" >PDL1</text><text x="543.40" y="212.10" font-size="6.3" font-weight="bold" text-anchor="end" fill="#0a0a0a" stroke="#0a0a0a" stroke-width="0.25" >Denaturant</text><polyline points="440.00,189.21 441.62,189.21 443.23,189.21 444.85,189.21 446.46,189.21 448.08,189.21 449.69,189.21 451.31,189.21 452.93,189.21 454.54,189.21 456.16,189.21 457.77,189.21 459.39,189.21 461.00,189.21 462.62,189.21 464.23,189.21 465.85,189.21 467.47,189.21 469.08,189.21 470.70,189.21 472.31,189.21 473.93,189.21 475.54,189.21 477.16,189.21 478.77,189.21 480.39,189.21 482.01,189.21 483.62,189.21 485.24,189.21 486.85,189.21 488.47,189.21 490.08,189.21 491.70,189.21 493.32,189.21 494.93,189.21 496.55,189.21 498.16,189.21 499.78,189.21 501.39,189.21 503.01,189.21 504.62,189.20 506.24,189.20 507.86,189.19 509.47,189.17 511.09,189.13 512.70,189.07 514.32,188.97 515.93,188.79 517.55,188.47 519.17,187.96 520.78,187.14 522.40,185.95 524.01,184.39 525.63,182.61 527.24,180.88 528.86,179.44 530.48,178.40 532.09,177.70 533.71,177.27 535.32,177.01 536.94,176.86 538.55,176.78 540.17,176.73 541.78,176.70 543.40,176.69" fill="none" stroke="#bdbdbd" stroke-width="0.75"/><polyline points="440.00,185.03 441.62,185.03 443.23,185.03 444.85,185.03 446.46,185.03 448.08,185.03 449.69,185.03 451.31,185.03 452.93,185.03 454.54,185.03 456.16,185.03 457.77,185.03 459.39,185.03 461.00,185.03 462.62,185.03 464.23,185.03 465.85,185.03 467.47,185.03 469.08,185.03 470.70,185.03 472.31,185.03 473.93,185.03 475.54,185.03 477.16,185.03 478.77,185.03 480.39,185.03 482.01,185.03 483.62,185.03 485.24,185.03 486.85,185.03 488.47,185.03 490.08,185.03 491.70,185.03 493.32,185.03 494.93,185.03 496.55,185.03 498.16,185.02 499.78,184.97 501.39,184.79 503.01,184.08 504.62,181.70 506.24,176.72 507.86,172.17 509.47,170.24 511.09,169.70 512.70,169.56 514.32,169.53 515.93,169.52 517.55,169.52 519.17,169.52 520.78,169.52 522.40,169.52 524.01,169.52 525.63,169.52 527.24,169.52 528.86,169.52 530.48,169.52 532.09,169.52 533.71,169.52 535.32,169.52 536.94,169.52 538.55,169.52 540.17,169.52 541.78,169.52 543.40,169.52" fill="none" stroke="#f05a5a" stroke-width="0.75"/><polyline points="440.00,185.38 441.62,185.38 443.23,185.38 444.85,185.38 446.46,185.38 448.08,185.38 449.69,185.38 451.31,185.38 452.93,185.38 454.54,185.38 456.16,185.38 457.77,185.38 459.39,185.38 461.00,185.38 462.62,185.38 464.23,185.38 465.85,185.38 467.47,185.38 469.08,185.38 470.70,185.38 472.31,185.38 473.93,185.38 475.54,185.38 477.16,185.38 478.77,185.38 480.39,185.38 482.01,185.38 483.62,185.38 485.24,185.38 486.85,185.38 488.47,185.38 490.08,185.38 491.70,185.38 493.32,185.38 494.93,185.38 496.55,185.38 498.16,185.38 499.78,185.38 501.39,185.38 503.01,185.38 504.62,185.38 506.24,185.38 507.86,185.38 509.47,185.37 511.09,185.34 512.70,185.21 514.32,184.69 515.93,182.76 517.55,177.56 519.17,170.55 520.78,166.54 522.40,165.25 524.01,164.92 525.63,164.84 527.24,164.82 528.86,164.82 530.48,164.82 532.09,164.82 533.71,164.82 535.32,164.82 536.94,164.82 538.55,164.82 540.17,164.82 541.78,164.82 543.40,164.82" fill="none" stroke="#2a2a2a" stroke-width="0.75"/><path d="M440.00 187.60L441.62 190.50L438.38 190.50Z" fill="#a0a0a0"/><path d="M465.85 187.60L467.47 190.50L464.24 190.50Z" fill="#a0a0a0"/><path d="M478.18 187.60L479.80 190.50L476.57 190.50Z" fill="#a0a0a0"/><path d="M491.70 187.60L493.31 190.50L490.08 190.50Z" fill="#a0a0a0"/><path d="M504.03 187.60L505.65 190.50L502.42 190.50Z" fill="#a0a0a0"/><path d="M517.55 184.11L519.16 187.02L515.93 187.02Z" fill="#a0a0a0"/><path d="M529.88 176.79L531.50 179.70L528.27 179.70Z" fill="#a0a0a0"/><path d="M543.40 175.40L545.01 178.31L541.78 178.31Z" fill="#a0a0a0"/><path d="M440.00 187.44L441.71 184.36L438.29 184.36Z" fill="#ff1c1c"/><path d="M465.85 186.74L467.56 183.66L464.14 183.66Z" fill="#ff1c1c"/><path d="M478.18 186.74L479.89 183.66L476.47 183.66Z" fill="#ff1c1c"/><path d="M491.70 179.45V182.94M490.60 179.45h2.2M490.60 182.94h2.2" stroke="#ff1c1c" stroke-width="0.6"/><path d="M491.70 182.91L493.41 179.83L489.99 179.83Z" fill="#ff1c1c"/><path d="M504.03 185.69L505.74 182.62L502.32 182.62Z" fill="#ff1c1c"/><path d="M517.55 163.18V167.36M516.45 163.18h2.2M516.45 167.36h2.2" stroke="#ff1c1c" stroke-width="0.6"/><path d="M517.55 166.98L519.26 163.90L515.84 163.90Z" fill="#ff1c1c"/><path d="M529.88 165.86V170.04M528.78 165.86h2.2M528.78 170.04h2.2" stroke="#ff1c1c" stroke-width="0.6"/><path d="M529.88 169.66L531.59 166.58L528.17 166.58Z" fill="#ff1c1c"/><path d="M543.40 174.89L545.11 171.81L541.69 171.81Z" fill="#ff1c1c"/><circle cx="440.00" cy="185.73" r="1.61" fill="#0d0d0d"/><circle cx="465.85" cy="185.73" r="1.61" fill="#0d0d0d"/><circle cx="478.18" cy="186.77" r="1.61" fill="#0d0d0d"/><circle cx="491.70" cy="185.73" r="1.61" fill="#0d0d0d"/><circle cx="504.03" cy="182.59" r="1.61" fill="#0d0d0d"/><circle cx="517.55" cy="177.36" r="1.61" fill="#0d0d0d"/><circle cx="529.88" cy="162.73" r="1.61" fill="#0d0d0d"/><path d="M543.40 164.68V167.46M542.30 164.68h2.2M542.30 167.46h2.2" stroke="#0d0d0d" stroke-width="0.6"/><circle cx="543.40" cy="166.07" r="1.61" fill="#0d0d0d"/><path d="M442.30 150.40H449.50" stroke="#2a2a2a" stroke-width="0.55"/><circle cx="445.90" cy="150.40" r="1.50" fill="#0d0d0d"/><text x="454.20" y="152.40" font-size="5.85" font-weight="normal" text-anchor="start" fill="#0a0a0a" stroke="#0a0a0a" stroke-width="0.15" >RT, 2 h</text><path d="M442.30 159.65H449.50" stroke="#bdbdbd" stroke-width="0.55"/><path d="M445.90 158.15L447.40 160.85L444.40 160.85Z" fill="#a0a0a0"/><text x="454.20" y="161.65" font-size="5.85" font-weight="normal" text-anchor="start" fill="#0a0a0a" stroke="#0a0a0a" stroke-width="0.15" >37°C, 30 m</text><path d="M442.30 168.90H449.50" stroke="#f05a5a" stroke-width="0.55"/><path d="M445.90 170.48L447.48 167.63L444.32 167.63Z" fill="#ff1c1c"/><text x="454.20" y="170.90" font-size="5.85" font-weight="normal" text-anchor="start" fill="#0a0a0a" stroke="#0a0a0a" stroke-width="0.15" >No blocking</text><text x="5.20" y="258.00" font-size="8" font-weight="bold" text-anchor="start" fill="#0a0a0a" stroke="#0a0a0a" stroke-width="0.25" >(I)</text><text x="8.10" y="302.85" font-size="5.95" font-weight="bold" text-anchor="middle" fill="#0a0a0a" stroke="#0a0a0a" stroke-width="0.25" transform="rotate(-90 8.10 302.85)" dy="2">Fluorescence intensity (a.u.)</text><path d="M22.30 268.00V337.70H126.20" stroke="#222222" stroke-width="1.0" fill="none"/><path d="M20.10 337.70H22.30" stroke="#222222" stroke-width="0.9"/><text x="19.10" y="339.55" font-size="5.15" font-weight="bold" text-anchor="end" fill="#0a0a0a" stroke="#0a0a0a" stroke-width="0.25" >0</text><path d="M20.10 323.76H22.30" stroke="#222222" stroke-width="0.9"/><text x="19.10" y="325.61" font-size="5.15" font-weight="bold" text-anchor="end" fill="#0a0a0a" stroke="#0a0a0a" stroke-width="0.25" >10</text><path d="M20.10 309.82H22.30" stroke="#222222" stroke-width="0.9"/><text x="19.10" y="311.67" font-size="5.15" font-weight="bold" text-anchor="end" fill="#0a0a0a" stroke="#0a0a0a" stroke-width="0.25" >20</text><path d="M20.10 295.88H22.30" stroke="#222222" stroke-width="0.9"/><text x="19.10" y="297.73" font-size="5.15" font-weight="bold" text-anchor="end" fill="#0a0a0a" stroke="#0a0a0a" stroke-width="0.25" >30</text><path d="M20.10 281.94H22.30" stroke="#222222" stroke-width="0.9"/><text x="19.10" y="283.79" font-size="5.15" font-weight="bold" text-anchor="end" fill="#0a0a0a" stroke="#0a0a0a" stroke-width="0.25" >40</text><path d="M20.10 268.00H22.30" stroke="#222222" stroke-width="0.9"/><text x="19.10" y="269.85" font-size="5.15" font-weight="bold" text-anchor="end" fill="#0a0a0a" stroke="#0a0a0a" stroke-width="0.25" >50</text><path d="M22.30 337.70V340.30" stroke="#222222" stroke-width="0.9"/><text x="22.30" y="346.70" font-size="5.15" font-weight="bold" text-anchor="middle" fill="#0a0a0a" stroke="#0a0a0a" stroke-width="0.25" >0</text><path d="M48.28 337.70V340.30" stroke="#222222" stroke-width="0.9"/><text x="48.28" y="346.70" font-size="5.15" font-weight="bold" text-anchor="middle" fill="#0a0a0a" stroke="#0a0a0a" stroke-width="0.25" >0.01</text><path d="M74.25 337.70V340.30" stroke="#222222" stroke-width="0.9"/><text x="74.25" y="346.70" font-size="5.15" font-weight="bold" text-anchor="middle" fill="#0a0a0a" stroke="#0a0a0a" stroke-width="0.25" >0.1</text><path d="M100.23 337.70V340.30" stroke="#222222" stroke-width="0.9"/><text x="100.23" y="346.70" font-size="5.15" font-weight="bold" text-anchor="middle" fill="#0a0a0a" stroke="#0a0a0a" stroke-width="0.25" >1</text><path d="M126.20 337.70V340.30" stroke="#222222" stroke-width="0.9"/><text x="126.20" y="346.70" font-size="5.15" font-weight="bold" text-anchor="middle" fill="#0a0a0a" stroke="#0a0a0a" stroke-width="0.25" >10</text><text x="74.25" y="355.50" font-size="6.35" font-weight="bold" text-anchor="middle" fill="#0a0a0a" stroke="#0a0a0a" stroke-width="0.25" >HER2 (ng/μL)</text><text x="23.20" y="334.80" font-size="6.3" font-weight="bold" text-anchor="start" fill="#0a0a0a" stroke="#0a0a0a" stroke-width="0.25" >HER2</text><text x="126.20" y="334.80" font-size="6.3" font-weight="bold" text-anchor="end" fill="#0a0a0a" stroke="#0a0a0a" stroke-width="0.25" >PBS</text><polyline points="22.30,319.58 23.92,319.58 25.55,319.58 27.17,319.57 28.79,319.57 30.42,319.57 32.04,319.57 33.66,319.57 35.29,319.57 36.91,319.57 38.53,319.57 40.16,319.56 41.78,319.56 43.40,319.56 45.03,319.56 46.65,319.55 48.28,319.55 49.90,319.54 51.52,319.53 53.15,319.53 54.77,319.52 56.39,319.50 58.02,319.49 59.64,319.47 61.26,319.45 62.89,319.43 64.51,319.40 66.13,319.37 67.76,319.33 69.38,319.28 71.00,319.23 72.63,319.16 74.25,319.08 75.87,318.99 77.50,318.89 79.12,318.76 80.74,318.61 82.37,318.43 83.99,318.23 85.61,317.98 87.24,317.70 88.86,317.37 90.48,316.99 92.11,316.55 93.73,316.04 95.35,315.46 96.98,314.80 98.60,314.05 100.23,313.21 101.85,312.29 103.47,311.27 105.10,310.16 106.72,308.97 108.34,307.72 109.97,306.40 111.59,305.04 113.21,303.66 114.84,302.28 116.46,300.92 118.08,299.59 119.71,298.32 121.33,297.12 122.95,296.00 124.58,294.97 126.20,294.03" fill="none" stroke="#bdbdbd" stroke-width="0.75"/><polyline points="22.30,318.18 23.92,318.18 25.55,318.18 27.17,318.18 28.79,318.18 30.42,318.18 32.04,318.18 33.66,318.18 35.29,318.18 36.91,318.18 38.53,318.18 40.16,318.18 41.78,318.18 43.40,318.18 45.03,318.18 46.65,318.18 48.28,318.17 49.90,318.17 51.52,318.17 53.15,318.16 54.77,318.16 56.39,318.15 58.02,318.14 59.64,318.13 61.26,318.12 62.89,318.11 64.51,318.09 66.13,318.07 67.76,318.04 69.38,318.01 71.00,317.96 72.63,317.91 74.25,317.84 75.87,317.76 77.50,317.66 79.12,317.54 80.74,317.39 82.37,317.21 83.99,316.98 85.61,316.71 87.24,316.37 88.86,315.96 90.48,315.48 92.11,314.89 93.73,314.20 95.35,313.40 96.98,312.46 98.60,311.38 100.23,310.17 101.85,308.83 103.47,307.37 105.10,305.82 106.72,304.20 108.34,302.55 109.97,300.90 111.59,299.30 113.21,297.78 114.84,296.36 116.46,295.07 118.08,293.91 119.71,292.88 121.33,291.99 122.95,291.23 124.58,290.58 126.20,290.03" fill="none" stroke="#f05a5a" stroke-width="0.75"/><polyline points="22.30,319.58 23.92,319.58 25.55,319.58 27.17,319.58 28.79,319.58 30.42,319.57 32.04,319.57 33.66,319.57 35.29,319.57 36.91,319.57 38.53,319.57 40.16,319.57 41.78,319.56 43.40,319.56 45.03,319.56 46.65,319.55 48.28,319.54 49.90,319.53 51.52,319.52 53.15,319.51 54.77,319.49 56.39,319.48 58.02,319.45 59.64,319.42 61.26,319.38 62.89,319.34 64.51,319.28 66.13,319.21 67.76,319.12 69.38,319.01 71.00,318.87 72.63,318.71 74.25,318.51 75.87,318.26 77.50,317.96 79.12,317.60 80.74,317.16 82.37,316.63 83.99,316.01 85.61,315.27 87.24,314.41 88.86,313.42 90.48,312.30 92.11,311.05 93.73,309.67 95.35,308.19 96.98,306.63 98.60,305.03 100.23,303.41 101.85,301.82 103.47,300.30 105.10,298.86 106.72,297.54 108.34,296.35 109.97,295.29 111.59,294.36 113.21,293.56 114.84,292.87 116.46,292.30 118.08,291.81 119.71,291.41 121.33,291.08 122.95,290.80 124.58,290.58 126.20,290.39" fill="none" stroke="#2a2a2a" stroke-width="0.75"/><path d="M22.30 317.96L23.91 320.87L20.69 320.87Z" fill="#a0a0a0"/><path d="M48.28 317.96L49.89 320.87L46.66 320.87Z" fill="#a0a0a0"/><path d="M60.67 317.96L62.28 320.87L59.05 320.87Z" fill="#a0a0a0"/><path d="M74.25 317.27L75.86 320.17L72.64 320.17Z" fill="#a0a0a0"/><path d="M86.64 316.57L88.26 319.48L85.03 319.48Z" fill="#a0a0a0"/><path d="M100.23 312.81L101.84 315.71L98.61 315.71Z" fill="#a0a0a0"/><path d="M112.62 302.77L114.23 305.68L111.00 305.68Z" fill="#a0a0a0"/><path d="M126.20 292.26V296.44M125.10 292.26h2.2M125.10 296.44h2.2" stroke="#a0a0a0" stroke-width="0.6"/><path d="M126.20 292.73L127.81 295.64L124.59 295.64Z" fill="#a0a0a0"/><path d="M22.30 319.89L24.01 316.82L20.59 316.82Z" fill="#ff1c1c"/><path d="M48.28 319.34L49.99 316.26L46.57 316.26Z" fill="#ff1c1c"/><path d="M60.67 319.34L62.38 316.26L58.96 316.26Z" fill="#ff1c1c"/><path d="M74.25 318.08L75.96 315.00L72.54 315.00Z" fill="#ff1c1c"/><path d="M86.64 319.34L88.35 316.26L84.93 316.26Z" fill="#ff1c1c"/><path d="M100.23 313.06L101.94 309.99L98.52 309.99Z" fill="#ff1c1c"/><path d="M112.62 295.32V300.90M111.52 295.32h2.2M111.52 300.90h2.2" stroke="#ff1c1c" stroke-width="0.6"/><path d="M112.62 299.82L114.33 296.74L110.91 296.74Z" fill="#ff1c1c"/><path d="M126.20 287.93V292.12M125.10 287.93h2.2M125.10 292.12h2.2" stroke="#ff1c1c" stroke-width="0.6"/><path d="M126.20 291.74L127.91 288.66L124.49 288.66Z" fill="#ff1c1c"/><circle cx="22.30" cy="319.72" r="1.61" fill="#0d0d0d"/><circle cx="48.28" cy="320.69" r="1.61" fill="#0d0d0d"/><circle cx="60.67" cy="319.44" r="1.61" fill="#0d0d0d"/><circle cx="74.25" cy="317.63" r="1.61" fill="#0d0d0d"/><circle cx="86.64" cy="315.12" r="1.61" fill="#0d0d0d"/><circle cx="100.23" cy="303.13" r="1.61" fill="#0d0d0d"/><circle cx="112.62" cy="293.79" r="1.61" fill="#0d0d0d"/><circle cx="126.20" cy="290.86" r="1.61" fill="#0d0d0d"/><path d="M24.80 272.90H32.00" stroke="#2a2a2a" stroke-width="0.55"/><circle cx="28.40" cy="272.90" r="1.50" fill="#0d0d0d"/><text x="36.70" y="274.90" font-size="5.85" font-weight="normal" text-anchor="start" fill="#0a0a0a" stroke="#0a0a0a" stroke-width="0.15" >RT, 1 h</text><path d="M24.80 282.05H32.00" stroke="#bdbdbd" stroke-width="0.55"/><path d="M28.40 280.55L29.90 283.25L26.90 283.25Z" fill="#a0a0a0"/><text x="36.70" y="284.05" font-size="5.85" font-weight="normal" text-anchor="start" fill="#0a0a0a" stroke="#0a0a0a" stroke-width="0.15" >37°C, 30 m</text><path d="M24.80 291.20H32.00" stroke="#f05a5a" stroke-width="0.55"/><path d="M28.40 292.78L29.98 289.93L26.82 289.93Z" fill="#ff1c1c"/><text x="36.70" y="293.20" font-size="5.85" font-weight="normal" text-anchor="start" fill="#0a0a0a" stroke="#0a0a0a" stroke-width="0.15" >37°C, 10 m</text><text x="148.70" y="258.00" font-size="8" font-weight="bold" text-anchor="start" fill="#0a0a0a" stroke="#0a0a0a" stroke-width="0.25" >(J)</text><text x="151.20" y="302.85" font-size="5.95" font-weight="bold" text-anchor="middle" fill="#0a0a0a" stroke="#0a0a0a" stroke-width="0.25" transform="rotate(-90 151.20 302.85)" dy="2">Fluorescence intensity (a.u.)</text><path d="M165.40 268.00V337.70H269.30" stroke="#222222" stroke-width="1.0" fill="none"/><path d="M163.20 337.70H165.40" stroke="#222222" stroke-width="0.9"/><text x="162.20" y="339.55" font-size="5.15" font-weight="bold" text-anchor="end" fill="#0a0a0a" stroke="#0a0a0a" stroke-width="0.25" >0</text><path d="M163.20 314.47H165.40" stroke="#222222" stroke-width="0.9"/><text x="162.20" y="316.32" font-size="5.15" font-weight="bold" text-anchor="end" fill="#0a0a0a" stroke="#0a0a0a" stroke-width="0.25" >10</text><path d="M163.20 291.23H165.40" stroke="#222222" stroke-width="0.9"/><text x="162.20" y="293.08" font-size="5.15" font-weight="bold" text-anchor="end" fill="#0a0a0a" stroke="#0a0a0a" stroke-width="0.25" >20</text><path d="M163.20 268.00H165.40" stroke="#222222" stroke-width="0.9"/><text x="162.20" y="269.85" font-size="5.15" font-weight="bold" text-anchor="end" fill="#0a0a0a" stroke="#0a0a0a" stroke-width="0.25" >30</text><path d="M165.40 337.70V340.30" stroke="#222222" stroke-width="0.9"/><text x="165.40" y="346.70" font-size="5.15" font-weight="bold" text-anchor="middle" fill="#0a0a0a" stroke="#0a0a0a" stroke-width="0.25" >0</text><path d="M191.38 337.70V340.30" stroke="#222222" stroke-width="0.9"/><text x="191.38" y="346.70" font-size="5.15" font-weight="bold" text-anchor="middle" fill="#0a0a0a" stroke="#0a0a0a" stroke-width="0.25" >0.01</text><path d="M217.35 337.70V340.30" stroke="#222222" stroke-width="0.9"/><text x="217.35" y="346.70" font-size="5.15" font-weight="bold" text-anchor="middle" fill="#0a0a0a" stroke="#0a0a0a" stroke-width="0.25" >0.1</text><path d="M243.33 337.70V340.30" stroke="#222222" stroke-width="0.9"/><text x="243.33" y="346.70" font-size="5.15" font-weight="bold" text-anchor="middle" fill="#0a0a0a" stroke="#0a0a0a" stroke-width="0.25" >1</text><path d="M269.30 337.70V340.30" stroke="#222222" stroke-width="0.9"/><text x="269.30" y="346.70" font-size="5.15" font-weight="bold" text-anchor="middle" fill="#0a0a0a" stroke="#0a0a0a" stroke-width="0.25" >10</text><text x="217.35" y="355.50" font-size="6.35" font-weight="bold" text-anchor="middle" fill="#0a0a0a" stroke="#0a0a0a" stroke-width="0.25" >PDL1 (ng/μL)</text><text x="166.30" y="334.80" font-size="6.3" font-weight="bold" text-anchor="start" fill="#0a0a0a" stroke="#0a0a0a" stroke-width="0.25" >PDL1</text><text x="269.30" y="334.80" font-size="6.3" font-weight="bold" text-anchor="end" fill="#0a0a0a" stroke="#0a0a0a" stroke-width="0.25" >PBS</text><polyline points="165.40,310.28 167.02,310.28 168.65,310.28 170.27,310.28 171.89,310.28 173.52,310.28 175.14,310.28 176.76,310.28 178.39,310.28 180.01,310.28 181.63,310.28 183.26,310.28 184.88,310.28 186.50,310.28 188.13,310.28 189.75,310.28 191.38,310.28 193.00,310.28 194.62,310.28 196.25,310.28 197.87,310.28 199.49,310.28 201.12,310.28 202.74,310.28 204.36,310.28 205.99,310.28 207.61,310.28 209.23,310.28 210.86,310.28 212.48,310.28 214.10,310.28 215.73,310.28 217.35,310.28 218.97,310.28 220.60,310.28 222.22,310.28 223.84,310.28 225.47,310.28 227.09,310.28 228.71,310.28 230.34,310.28 231.96,310.27 233.58,310.06 235.21,307.13 236.83,297.99 238.45,295.59 240.08,295.43 241.70,295.42 243.33,295.42 244.95,295.42 246.57,295.42 248.20,295.42 249.82,295.42 251.44,295.42 253.07,295.42 254.69,295.42 256.31,295.42 257.94,295.42 259.56,295.42 261.18,295.42 262.81,295.42 264.43,295.42 266.05,295.42 267.68,295.42 269.30,295.42" fill="none" stroke="#bdbdbd" stroke-width="0.75"/><polyline points="165.40,307.03 167.02,307.03 168.65,307.03 170.27,307.03 171.89,307.03 173.52,307.03 175.14,307.03 176.76,307.03 178.39,307.03 180.01,307.03 181.63,307.03 183.26,307.03 184.88,307.03 186.50,307.03 188.13,307.03 189.75,307.03 191.38,307.03 193.00,307.03 194.62,307.03 196.25,307.03 197.87,307.03 199.49,307.03 201.12,307.03 202.74,307.03 204.36,307.03 205.99,307.03 207.61,307.03 209.23,307.03 210.86,307.03 212.48,307.03 214.10,307.03 215.73,307.03 217.35,307.03 218.97,307.03 220.60,307.03 222.22,307.03 223.84,307.03 225.47,307.03 227.09,307.03 228.71,307.03 230.34,307.03 231.96,307.03 233.58,307.03 235.21,307.03 236.83,307.03 238.45,307.02 240.08,306.85 241.70,304.33 243.33,295.74 244.95,293.27 246.57,293.10 248.20,293.09 249.82,293.09 251.44,293.09 253.07,293.09 254.69,293.09 256.31,293.09 257.94,293.09 259.56,293.09 261.18,293.09 262.81,293.09 264.43,293.09 266.05,293.09 267.68,293.09 269.30,293.09" fill="none" stroke="#f05a5a" stroke-width="0.75"/><polyline points="165.40,309.36 167.02,309.36 168.65,309.36 170.27,309.36 171.89,309.36 173.52,309.36 175.14,309.36 176.76,309.36 178.39,309.36 180.01,309.36 181.63,309.36 183.26,309.36 184.88,309.36 186.50,309.36 188.13,309.36 189.75,309.36 191.38,309.36 193.00,309.36 194.62,309.36 196.25,309.36 197.87,309.36 199.49,309.36 201.12,309.36 202.74,309.36 204.36,309.36 205.99,309.36 207.61,309.36 209.23,309.36 210.86,309.36 212.48,309.36 214.10,309.36 215.73,309.36 217.35,309.36 218.97,309.36 220.60,309.35 222.22,309.35 223.84,309.34 225.47,309.29 227.09,309.09 228.71,308.29 230.34,305.77 231.96,301.21 233.58,297.69 235.21,296.36 236.83,296.00 238.45,295.91 240.08,295.89 241.70,295.88 243.33,295.88 244.95,295.88 246.57,295.88 248.20,295.88 249.82,295.88 251.44,295.88 253.07,295.88 254.69,295.88 256.31,295.88 257.94,295.88 259.56,295.88 261.18,295.88 262.81,295.88 264.43,295.88 266.05,295.88 267.68,295.88 269.30,295.88" fill="none" stroke="#2a2a2a" stroke-width="0.75"/><path d="M165.40 308.20L167.02 311.11L163.78 311.11Z" fill="#a0a0a0"/><path d="M191.38 306.33V313.31M190.28 306.33h2.2M190.28 313.31h2.2" stroke="#a0a0a0" stroke-width="0.6"/><path d="M191.38 308.20L192.99 311.11L189.76 311.11Z" fill="#a0a0a0"/><path d="M203.77 309.37L205.38 312.27L202.15 312.27Z" fill="#a0a0a0"/><path d="M217.35 307.03V312.61M216.25 307.03h2.2M216.25 312.61h2.2" stroke="#a0a0a0" stroke-width="0.6"/><path d="M217.35 308.20L218.97 311.11L215.74 311.11Z" fill="#a0a0a0"/><path d="M229.74 309.12V313.77M228.64 309.12h2.2M228.64 313.77h2.2" stroke="#a0a0a0" stroke-width="0.6"/><path d="M229.74 309.83L231.36 312.74L228.13 312.74Z" fill="#a0a0a0"/><path d="M243.33 294.73L244.94 297.64L241.71 297.64Z" fill="#a0a0a0"/><path d="M255.72 294.73L257.33 297.64L254.10 297.64Z" fill="#a0a0a0"/><path d="M269.30 293.10L270.92 296.01L267.69 296.01Z" fill="#a0a0a0"/><path d="M165.40 310.37L167.11 307.29L163.69 307.29Z" fill="#ff1c1c"/><path d="M191.38 310.37L193.09 307.29L189.66 307.29Z" fill="#ff1c1c"/><path d="M203.77 299.83V308.19M202.67 299.83h2.2M202.67 308.19h2.2" stroke="#ff1c1c" stroke-width="0.6"/><path d="M203.77 305.72L205.48 302.64L202.06 302.64Z" fill="#ff1c1c"/><path d="M217.35 294.72V306.33M216.25 294.72h2.2M216.25 306.33h2.2" stroke="#ff1c1c" stroke-width="0.6"/><path d="M217.35 302.24L219.06 299.16L215.64 299.16Z" fill="#ff1c1c"/><path d="M229.74 309.21L231.45 306.13L228.03 306.13Z" fill="#ff1c1c"/><path d="M243.33 297.13L245.04 294.05L241.62 294.05Z" fill="#ff1c1c"/><path d="M255.72 290.07V293.79M254.62 290.07h2.2M254.62 293.79h2.2" stroke="#ff1c1c" stroke-width="0.6"/><path d="M255.72 293.64L257.43 290.56L254.01 290.56Z" fill="#ff1c1c"/><path d="M269.30 293.64L271.01 290.56L267.59 290.56Z" fill="#ff1c1c"/><circle cx="165.40" cy="308.89" r="1.61" fill="#0d0d0d"/><circle cx="191.38" cy="310.05" r="1.61" fill="#0d0d0d"/><circle cx="203.77" cy="311.68" r="1.61" fill="#0d0d0d"/><path d="M217.35 303.31V310.28M216.25 303.31h2.2M216.25 310.28h2.2" stroke="#0d0d0d" stroke-width="0.6"/><circle cx="217.35" cy="306.80" r="1.61" fill="#0d0d0d"/><path d="M229.74 305.41V310.05M228.64 305.41h2.2M228.64 310.05h2.2" stroke="#0d0d0d" stroke-width="0.6"/><circle cx="229.74" cy="307.73" r="1.61" fill="#0d0d0d"/><path d="M243.33 287.52V293.09M242.23 287.52h2.2M242.23 293.09h2.2" stroke="#0d0d0d" stroke-width="0.6"/><circle cx="243.33" cy="290.30" r="1.61" fill="#0d0d0d"/><path d="M255.72 293.56V299.13M254.62 293.56h2.2M254.62 299.13h2.2" stroke="#0d0d0d" stroke-width="0.6"/><circle cx="255.72" cy="296.34" r="1.61" fill="#0d0d0d"/><circle cx="269.30" cy="298.20" r="1.61" fill="#0d0d0d"/><path d="M168.40 272.90H175.60" stroke="#2a2a2a" stroke-width="0.55"/><circle cx="172.00" cy="272.90" r="1.50" fill="#0d0d0d"/><text x="180.30" y="274.90" font-size="5.85" font-weight="normal" text-anchor="start" fill="#0a0a0a" stroke="#0a0a0a" stroke-width="0.15" >RT, 1 h</text><path d="M168.40 282.05H175.60" stroke="#bdbdbd" stroke-width="0.55"/><path d="M172.00 280.55L173.50 283.25L170.50 283.25Z" fill="#a0a0a0"/><text x="180.30" y="284.05" font-size="5.85" font-weight="normal" text-anchor="start" fill="#0a0a0a" stroke="#0a0a0a" stroke-width="0.15" >37°C, 30 m</text><path d="M168.40 291.20H175.60" stroke="#f05a5a" stroke-width="0.55"/><path d="M172.00 292.78L173.58 289.93L170.42 289.93Z" fill="#ff1c1c"/><text x="180.30" y="293.20" font-size="5.85" font-weight="normal" text-anchor="start" fill="#0a0a0a" stroke="#0a0a0a" stroke-width="0.15" >37°C, 10 m</text><text x="284.90" y="258.00" font-size="8" font-weight="bold" text-anchor="start" fill="#0a0a0a" stroke="#0a0a0a" stroke-width="0.25" >(K)</text><text x="288.10" y="302.85" font-size="5.95" font-weight="bold" text-anchor="middle" fill="#0a0a0a" stroke="#0a0a0a" stroke-width="0.25" transform="rotate(-90 288.10 302.85)" dy="2">Fluorescence intensity (a.u.)</text><path d="M305.10 268.00V337.70H409.20" stroke="#222222" stroke-width="1.0" fill="none"/><path d="M302.90 337.70H305.10" stroke="#222222" stroke-width="0.9"/><text x="301.90" y="339.55" font-size="5.15" font-weight="bold" text-anchor="end" fill="#0a0a0a" stroke="#0a0a0a" stroke-width="0.25" >0</text><path d="M302.90 323.76H305.10" stroke="#222222" stroke-width="0.9"/><text x="301.90" y="325.61" font-size="5.15" font-weight="bold" text-anchor="end" fill="#0a0a0a" stroke="#0a0a0a" stroke-width="0.25" >50</text><path d="M302.90 309.82H305.10" stroke="#222222" stroke-width="0.9"/><text x="301.90" y="311.67" font-size="5.15" font-weight="bold" text-anchor="end" fill="#0a0a0a" stroke="#0a0a0a" stroke-width="0.25" >100</text><path d="M302.90 295.88H305.10" stroke="#222222" stroke-width="0.9"/><text x="301.90" y="297.73" font-size="5.15" font-weight="bold" text-anchor="end" fill="#0a0a0a" stroke="#0a0a0a" stroke-width="0.25" >150</text><path d="M302.90 281.94H305.10" stroke="#222222" stroke-width="0.9"/><text x="301.90" y="283.79" font-size="5.15" font-weight="bold" text-anchor="end" fill="#0a0a0a" stroke="#0a0a0a" stroke-width="0.25" >200</text><path d="M302.90 268.00H305.10" stroke="#222222" stroke-width="0.9"/><text x="301.90" y="269.85" font-size="5.15" font-weight="bold" text-anchor="end" fill="#0a0a0a" stroke="#0a0a0a" stroke-width="0.25" >250</text><path d="M305.10 337.70V340.30" stroke="#222222" stroke-width="0.9"/><text x="305.10" y="346.70" font-size="5.15" font-weight="bold" text-anchor="middle" fill="#0a0a0a" stroke="#0a0a0a" stroke-width="0.25" >0</text><path d="M331.12 337.70V340.30" stroke="#222222" stroke-width="0.9"/><text x="331.12" y="346.70" font-size="5.15" font-weight="bold" text-anchor="middle" fill="#0a0a0a" stroke="#0a0a0a" stroke-width="0.25" >0.01</text><path d="M357.15 337.70V340.30" stroke="#222222" stroke-width="0.9"/><text x="357.15" y="346.70" font-size="5.15" font-weight="bold" text-anchor="middle" fill="#0a0a0a" stroke="#0a0a0a" stroke-width="0.25" >0.1</text><path d="M383.18 337.70V340.30" stroke="#222222" stroke-width="0.9"/><text x="383.18" y="346.70" font-size="5.15" font-weight="bold" text-anchor="middle" fill="#0a0a0a" stroke="#0a0a0a" stroke-width="0.25" >1</text><path d="M409.20 337.70V340.30" stroke="#222222" stroke-width="0.9"/><text x="409.20" y="346.70" font-size="5.15" font-weight="bold" text-anchor="middle" fill="#0a0a0a" stroke="#0a0a0a" stroke-width="0.25" >10</text><text x="357.15" y="355.50" font-size="6.35" font-weight="bold" text-anchor="middle" fill="#0a0a0a" stroke="#0a0a0a" stroke-width="0.25" >HER2 (ng/μL)</text><text x="306.00" y="334.80" font-size="6.3" font-weight="bold" text-anchor="start" fill="#0a0a0a" stroke="#0a0a0a" stroke-width="0.25" >HER2</text><text x="409.20" y="334.80" font-size="6.3" font-weight="bold" text-anchor="end" fill="#0a0a0a" stroke="#0a0a0a" stroke-width="0.25" >Denaturant</text><polyline points="305.10,305.64 306.73,305.64 308.35,305.64 309.98,305.64 311.61,305.64 313.23,305.64 314.86,305.64 316.49,305.64 318.11,305.63 319.74,305.63 321.37,305.63 322.99,305.63 324.62,305.63 326.25,305.63 327.87,305.63 329.50,305.63 331.12,305.62 332.75,305.62 334.38,305.62 336.00,305.61 337.63,305.61 339.26,305.60 340.88,305.59 342.51,305.58 344.14,305.57 345.76,305.56 347.39,305.54 349.02,305.53 350.64,305.50 352.27,305.47 353.90,305.44 355.52,305.40 357.15,305.35 358.78,305.29 360.40,305.22 362.03,305.14 363.66,305.04 365.28,304.92 366.91,304.77 368.54,304.60 370.16,304.40 371.79,304.15 373.42,303.86 375.04,303.52 376.67,303.12 378.30,302.64 379.92,302.09 381.55,301.44 383.18,300.70 384.80,299.86 386.43,298.90 388.05,297.82 389.68,296.63 391.31,295.32 392.93,293.92 394.56,292.42 396.19,290.85 397.81,289.24 399.44,287.61 401.07,286.00 402.69,284.42 404.32,282.90 405.95,281.47 407.57,280.13 409.20,278.91" fill="none" stroke="#bdbdbd" stroke-width="0.75"/><polyline points="305.10,311.49 306.73,311.49 308.35,311.49 309.98,311.49 311.61,311.49 313.23,311.49 314.86,311.48 316.49,311.48 318.11,311.48 319.74,311.48 321.37,311.48 322.99,311.47 324.62,311.47 326.25,311.47 327.87,311.46 329.50,311.46 331.12,311.45 332.75,311.45 334.38,311.44 336.00,311.43 337.63,311.42 339.26,311.40 340.88,311.39 342.51,311.37 344.14,311.35 345.76,311.32 347.39,311.30 349.02,311.26 350.64,311.22 352.27,311.18 353.90,311.12 355.52,311.06 357.15,310.99 358.78,310.90 360.40,310.80 362.03,310.68 363.66,310.55 365.28,310.39 366.91,310.21 368.54,309.99 370.16,309.74 371.79,309.46 373.42,309.13 375.04,308.74 376.67,308.31 378.30,307.80 379.92,307.23 381.55,306.57 383.18,305.83 384.80,305.00 386.43,304.06 388.05,303.02 389.68,301.87 391.31,300.61 392.93,299.24 394.56,297.76 396.19,296.18 397.81,294.52 399.44,292.79 401.07,291.00 402.69,289.18 404.32,287.35 405.95,285.53 407.57,283.74 409.20,282.02" fill="none" stroke="#f05a5a" stroke-width="0.75"/><polyline points="305.10,310.10 306.73,310.10 308.35,310.10 309.98,310.09 311.61,310.09 313.23,310.09 314.86,310.09 316.49,310.09 318.11,310.09 319.74,310.09 321.37,310.08 322.99,310.08 324.62,310.08 326.25,310.07 327.87,310.07 329.50,310.06 331.12,310.05 332.75,310.04 334.38,310.03 336.00,310.02 337.63,310.00 339.26,309.98 340.88,309.96 342.51,309.93 344.14,309.89 345.76,309.85 347.39,309.80 349.02,309.74 350.64,309.67 352.27,309.58 353.90,309.48 355.52,309.35 357.15,309.21 358.78,309.03 360.40,308.82 362.03,308.56 363.66,308.26 365.28,307.91 366.91,307.50 368.54,307.01 370.16,306.44 371.79,305.79 373.42,305.03 375.04,304.17 376.67,303.21 378.30,302.12 379.92,300.93 381.55,299.63 383.18,298.23 384.80,296.75 386.43,295.22 388.05,293.65 389.68,292.07 391.31,290.52 392.93,289.01 394.56,287.57 396.19,286.21 397.81,284.96 399.44,283.82 401.07,282.79 402.69,281.87 404.32,281.06 405.95,280.36 407.57,279.74 409.20,279.22" fill="none" stroke="#2a2a2a" stroke-width="0.75"/><path d="M305.10 303.13V306.47M304.00 303.13h2.2M304.00 306.47h2.2" stroke="#a0a0a0" stroke-width="0.6"/><path d="M305.10 303.19L306.72 306.09L303.49 306.09Z" fill="#a0a0a0"/><path d="M331.12 305.42L332.74 308.32L329.51 308.32Z" fill="#a0a0a0"/><path d="M343.54 305.42L345.16 308.32L341.93 308.32Z" fill="#a0a0a0"/><path d="M357.15 305.36V308.70M356.05 305.36h2.2M356.05 308.70h2.2" stroke="#a0a0a0" stroke-width="0.6"/><path d="M357.15 305.42L358.76 308.32L355.53 308.32Z" fill="#a0a0a0"/><path d="M369.57 306.53L371.18 309.44L367.95 309.44Z" fill="#a0a0a0"/><path d="M383.18 301.24L384.79 304.14L381.56 304.14Z" fill="#a0a0a0"/><path d="M395.59 291.76L397.21 294.66L393.98 294.66Z" fill="#a0a0a0"/><path d="M409.20 275.53V279.99M408.10 275.53h2.2M408.10 279.99h2.2" stroke="#a0a0a0" stroke-width="0.6"/><path d="M409.20 276.14L410.81 279.05L407.58 279.05Z" fill="#a0a0a0"/><path d="M305.10 312.65L306.81 309.57L303.39 309.57Z" fill="#ff1c1c"/><path d="M331.12 313.20L332.83 310.12L329.42 310.12Z" fill="#ff1c1c"/><path d="M343.54 313.20L345.25 310.12L341.83 310.12Z" fill="#ff1c1c"/><path d="M357.15 313.20L358.86 310.12L355.44 310.12Z" fill="#ff1c1c"/><path d="M369.57 313.20L371.28 310.12L367.86 310.12Z" fill="#ff1c1c"/><path d="M383.18 307.99L384.88 304.91L381.47 304.91Z" fill="#ff1c1c"/><path d="M395.59 299.26L397.30 296.18L393.88 296.18Z" fill="#ff1c1c"/><path d="M409.20 283.93L410.91 280.85L407.49 280.85Z" fill="#ff1c1c"/><circle cx="305.10" cy="308.43" r="1.61" fill="#0d0d0d"/><circle cx="331.12" cy="310.10" r="1.61" fill="#0d0d0d"/><circle cx="343.54" cy="312.05" r="1.61" fill="#0d0d0d"/><circle cx="357.15" cy="310.10" r="1.61" fill="#0d0d0d"/><circle cx="369.57" cy="306.75" r="1.61" fill="#0d0d0d"/><circle cx="383.18" cy="299.78" r="1.61" fill="#0d0d0d"/><circle cx="395.59" cy="287.24" r="1.61" fill="#0d0d0d"/><circle cx="409.20" cy="279.43" r="1.61" fill="#0d0d0d"/><path d="M307.30 272.90H314.50" stroke="#2a2a2a" stroke-width="0.55"/><circle cx="310.90" cy="272.90" r="1.50" fill="#0d0d0d"/><text x="319.20" y="274.90" font-size="5.85" font-weight="normal" text-anchor="start" fill="#0a0a0a" stroke="#0a0a0a" stroke-width="0.15" >RT, 1 h</text><path d="M307.30 282.05H314.50" stroke="#bdbdbd" stroke-width="0.55"/><path d="M310.90 280.55L312.40 283.25L309.40 283.25Z" fill="#a0a0a0"/><text x="319.20" y="284.05" font-size="5.85" font-weight="normal" text-anchor="start" fill="#0a0a0a" stroke="#0a0a0a" stroke-width="0.15" >37°C, 30 m</text><path d="M307.30 291.20H314.50" stroke="#f05a5a" stroke-width="0.55"/><path d="M310.90 292.78L312.48 289.93L309.32 289.93Z" fill="#ff1c1c"/><text x="319.20" y="293.20" font-size="5.85" font-weight="normal" text-anchor="start" fill="#0a0a0a" stroke="#0a0a0a" stroke-width="0.15" >37°C, 10 m</text><text x="419.90" y="258.00" font-size="8" font-weight="bold" text-anchor="start" fill="#0a0a0a" stroke="#0a0a0a" stroke-width="0.25" >(L)</text><text x="423.00" y="302.85" font-size="5.95" font-weight="bold" text-anchor="middle" fill="#0a0a0a" stroke="#0a0a0a" stroke-width="0.25" transform="rotate(-90 423.00 302.85)" dy="2">Fluorescence intensity (a.u.)</text><path d="M440.00 268.00V337.70H543.40" stroke="#222222" stroke-width="1.0" fill="none"/><path d="M437.80 337.70H440.00" stroke="#222222" stroke-width="0.9"/><text x="436.80" y="339.55" font-size="5.15" font-weight="bold" text-anchor="end" fill="#0a0a0a" stroke="#0a0a0a" stroke-width="0.25" >0</text><path d="M437.80 320.27H440.00" stroke="#222222" stroke-width="0.9"/><text x="436.80" y="322.12" font-size="5.15" font-weight="bold" text-anchor="end" fill="#0a0a0a" stroke="#0a0a0a" stroke-width="0.25" >50</text><path d="M437.80 302.85H440.00" stroke="#222222" stroke-width="0.9"/><text x="436.80" y="304.70" font-size="5.15" font-weight="bold" text-anchor="end" fill="#0a0a0a" stroke="#0a0a0a" stroke-width="0.25" >100</text><path d="M437.80 285.43H440.00" stroke="#222222" stroke-width="0.9"/><text x="436.80" y="287.28" font-size="5.15" font-weight="bold" text-anchor="end" fill="#0a0a0a" stroke="#0a0a0a" stroke-width="0.25" >150</text><path d="M437.80 268.00H440.00" stroke="#222222" stroke-width="0.9"/><text x="436.80" y="269.85" font-size="5.15" font-weight="bold" text-anchor="end" fill="#0a0a0a" stroke="#0a0a0a" stroke-width="0.25" >200</text><path d="M440.00 337.70V340.30" stroke="#222222" stroke-width="0.9"/><text x="440.00" y="346.70" font-size="5.15" font-weight="bold" text-anchor="middle" fill="#0a0a0a" stroke="#0a0a0a" stroke-width="0.25" >0</text><path d="M465.85 337.70V340.30" stroke="#222222" stroke-width="0.9"/><text x="465.85" y="346.70" font-size="5.15" font-weight="bold" text-anchor="middle" fill="#0a0a0a" stroke="#0a0a0a" stroke-width="0.25" >0.01</text><path d="M491.70 337.70V340.30" stroke="#222222" stroke-width="0.9"/><text x="491.70" y="346.70" font-size="5.15" font-weight="bold" text-anchor="middle" fill="#0a0a0a" stroke="#0a0a0a" stroke-width="0.25" >0.1</text><path d="M517.55 337.70V340.30" stroke="#222222" stroke-width="0.9"/><text x="517.55" y="346.70" font-size="5.15" font-weight="bold" text-anchor="middle" fill="#0a0a0a" stroke="#0a0a0a" stroke-width="0.25" >1</text><path d="M543.40 337.70V340.30" stroke="#222222" stroke-width="0.9"/><text x="543.40" y="346.70" font-size="5.15" font-weight="bold" text-anchor="middle" fill="#0a0a0a" stroke="#0a0a0a" stroke-width="0.25" >10</text><text x="491.70" y="355.50" font-size="6.35" font-weight="bold" text-anchor="middle" fill="#0a0a0a" stroke="#0a0a0a" stroke-width="0.25" >PDL1 (ng/μL)</text><text x="440.90" y="334.80" font-size="6.3" font-weight="bold" text-anchor="start" fill="#0a0a0a" stroke="#0a0a0a" stroke-width="0.25" >PDL1</text><text x="543.40" y="334.80" font-size="6.3" font-weight="bold" text-anchor="end" fill="#0a0a0a" stroke="#0a0a0a" stroke-width="0.25" >Denaturant</text><polyline points="440.00,308.08 441.62,308.08 443.23,308.08 444.85,308.08 446.46,308.08 448.08,308.08 449.69,308.08 451.31,308.08 452.93,308.08 454.54,308.08 456.16,308.08 457.77,308.08 459.39,308.08 461.00,308.08 462.62,308.08 464.23,308.08 465.85,308.08 467.47,308.08 469.08,308.08 470.70,308.08 472.31,308.08 473.93,308.08 475.54,308.08 477.16,308.08 478.77,308.08 480.39,308.08 482.01,308.08 483.62,308.08 485.24,308.08 486.85,308.08 488.47,308.08 490.08,308.08 491.70,308.08 493.32,308.08 494.93,308.08 496.55,308.08 498.16,308.08 499.78,308.08 501.39,308.08 503.01,308.08 504.62,308.08 506.24,308.08 507.86,308.07 509.47,308.04 511.09,307.93 512.70,307.46 514.32,305.75 515.93,301.31 517.55,295.67 519.17,292.63 520.78,291.67 522.40,291.43 524.01,291.37 525.63,291.35 527.24,291.35 528.86,291.35 530.48,291.35 532.09,291.35 533.71,291.35 535.32,291.35 536.94,291.35 538.55,291.35 540.17,291.35 541.78,291.35 543.40,291.35" fill="none" stroke="#bdbdbd" stroke-width="0.75"/><polyline points="440.00,309.47 441.62,309.47 443.23,309.47 444.85,309.47 446.46,309.47 448.08,309.47 449.69,309.47 451.31,309.47 452.93,309.47 454.54,309.47 456.16,309.47 457.77,309.47 459.39,309.47 461.00,309.47 462.62,309.47 464.23,309.47 465.85,309.47 467.47,309.47 469.08,309.47 470.70,309.47 472.31,309.47 473.93,309.47 475.54,309.47 477.16,309.47 478.77,309.47 480.39,309.47 482.01,309.47 483.62,309.47 485.24,309.47 486.85,309.47 488.47,309.47 490.08,309.47 491.70,309.47 493.32,309.47 494.93,309.47 496.55,309.47 498.16,309.47 499.78,309.47 501.39,309.47 503.01,309.47 504.62,309.47 506.24,309.47 507.86,309.47 509.47,309.47 511.09,309.45 512.70,309.37 514.32,309.05 515.93,307.96 517.55,305.53 519.17,303.11 520.78,302.01 522.40,301.70 524.01,301.62 525.63,301.60 527.24,301.60 528.86,301.60 530.48,301.60 532.09,301.60 533.71,301.60 535.32,301.60 536.94,301.60 538.55,301.60 540.17,301.60 541.78,301.60 543.40,301.60" fill="none" stroke="#f05a5a" stroke-width="0.75"/><polyline points="440.00,307.73 441.62,307.73 443.23,307.73 444.85,307.73 446.46,307.73 448.08,307.73 449.69,307.73 451.31,307.73 452.93,307.73 454.54,307.73 456.16,307.73 457.77,307.73 459.39,307.73 461.00,307.73 462.62,307.73 464.23,307.73 465.85,307.73 467.47,307.73 469.08,307.73 470.70,307.73 472.31,307.73 473.93,307.73 475.54,307.73 477.16,307.73 478.77,307.73 480.39,307.73 482.01,307.73 483.62,307.73 485.24,307.73 486.85,307.73 488.47,307.73 490.08,307.73 491.70,307.73 493.32,307.73 494.93,307.73 496.55,307.73 498.16,307.72 499.78,307.70 501.39,307.62 503.01,307.28 504.62,305.98 506.24,302.26 507.86,296.73 509.47,293.27 511.09,292.10 512.70,291.80 514.32,291.72 515.93,291.70 517.55,291.70 519.17,291.70 520.78,291.70 522.40,291.70 524.01,291.70 525.63,291.70 527.24,291.70 528.86,291.70 530.48,291.70 532.09,291.70 533.71,291.70 535.32,291.70 536.94,291.70 538.55,291.70 540.17,291.70 541.78,291.70 543.40,291.70" fill="none" stroke="#2a2a2a" stroke-width="0.75"/><path d="M440.00 306.46L441.62 309.37L438.38 309.37Z" fill="#a0a0a0"/><path d="M465.85 306.46L467.47 309.37L464.24 309.37Z" fill="#a0a0a0"/><path d="M478.18 306.46L479.80 309.37L476.57 309.37Z" fill="#a0a0a0"/><path d="M491.70 306.46L493.31 309.37L490.08 309.37Z" fill="#a0a0a0"/><path d="M504.03 306.46L505.65 309.37L502.42 309.37Z" fill="#a0a0a0"/><path d="M517.55 295.31L519.16 298.22L515.93 298.22Z" fill="#a0a0a0"/><path d="M529.88 289.73L531.50 292.64L528.27 292.64Z" fill="#a0a0a0"/><path d="M543.40 289.04L545.01 291.94L541.78 291.94Z" fill="#a0a0a0"/><path d="M440.00 311.18L441.71 308.10L438.29 308.10Z" fill="#ff1c1c"/><path d="M465.85 311.18L467.56 308.10L464.14 308.10Z" fill="#ff1c1c"/><path d="M478.18 311.18L479.89 308.10L476.47 308.10Z" fill="#ff1c1c"/><path d="M491.70 311.18L493.41 308.10L489.99 308.10Z" fill="#ff1c1c"/><path d="M504.03 311.18L505.74 308.10L502.32 308.10Z" fill="#ff1c1c"/><path d="M517.55 304.91L519.26 301.83L515.84 301.83Z" fill="#ff1c1c"/><path d="M529.88 303.17L531.59 300.09L528.17 300.09Z" fill="#ff1c1c"/><path d="M543.40 303.17L545.11 300.09L541.69 300.09Z" fill="#ff1c1c"/><circle cx="440.00" cy="307.38" r="1.61" fill="#0d0d0d"/><circle cx="465.85" cy="308.08" r="1.61" fill="#0d0d0d"/><circle cx="478.18" cy="308.08" r="1.61" fill="#0d0d0d"/><circle cx="491.70" cy="303.90" r="1.61" fill="#0d0d0d"/><circle cx="504.03" cy="303.90" r="1.61" fill="#0d0d0d"/><path d="M517.55 286.47V290.65M516.45 286.47h2.2M516.45 290.65h2.2" stroke="#0d0d0d" stroke-width="0.6"/><circle cx="517.55" cy="288.56" r="1.61" fill="#0d0d0d"/><path d="M529.88 287.52V295.18M528.78 287.52h2.2M528.78 295.18h2.2" stroke="#0d0d0d" stroke-width="0.6"/><circle cx="529.88" cy="291.35" r="1.61" fill="#0d0d0d"/><path d="M543.40 294.14V297.62M542.30 294.14h2.2M542.30 297.62h2.2" stroke="#0d0d0d" stroke-width="0.6"/><circle cx="543.40" cy="295.88" r="1.61" fill="#0d0d0d"/><path d="M441.80 272.90H449.00" stroke="#2a2a2a" stroke-width="0.55"/><circle cx="445.40" cy="272.90" r="1.50" fill="#0d0d0d"/><text x="453.70" y="274.90" font-size="5.85" font-weight="normal" text-anchor="start" fill="#0a0a0a" stroke="#0a0a0a" stroke-width="0.15" >RT, 1 h</text><path d="M441.80 282.05H449.00" stroke="#bdbdbd" stroke-width="0.55"/><path d="M445.40 280.55L446.90 283.25L443.90 283.25Z" fill="#a0a0a0"/><text x="453.70" y="284.05" font-size="5.85" font-weight="normal" text-anchor="start" fill="#0a0a0a" stroke="#0a0a0a" stroke-width="0.15" >37°C, 30 m</text><path d="M441.80 291.20H449.00" stroke="#f05a5a" stroke-width="0.55"/><path d="M445.40 292.78L446.98 289.93L443.82 289.93Z" fill="#ff1c1c"/><text x="453.70" y="293.20" font-size="5.85" font-weight="normal" text-anchor="start" fill="#0a0a0a" stroke="#0a0a0a" stroke-width="0.15" >37°C, 10 m</text></g></svg></div></body></html>
